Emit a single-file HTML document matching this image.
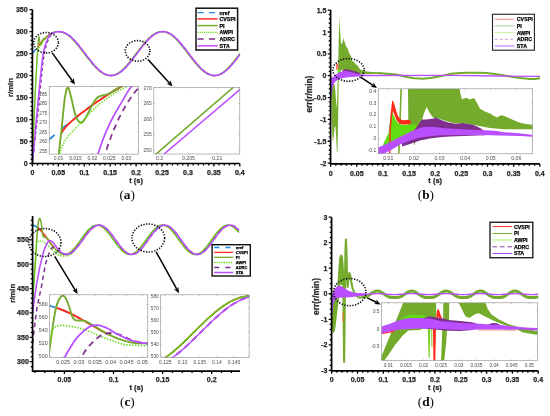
<!DOCTYPE html>
<html><head><meta charset="utf-8"><title>Figure</title><style>html,body{margin:0;padding:0;background:#fff}svg{display:block}</style></head><body>
<svg width="550" height="416" viewBox="0 0 550 416">
<rect width="550" height="416" fill="#fff"/>
<clipPath id="c1"><rect x="31.40" y="6.60" width="210.40" height="156.90"/></clipPath>
<path d="M32.4 53.6L32.8 53.0L33.2 52.5L33.6 52.0L34.0 51.4L34.4 50.9L34.8 50.4L35.2 49.9L35.6 49.3L36.0 48.8L36.4 48.3L36.8 47.8L37.2 47.3L37.6 46.8L38.0 46.3L38.4 45.8L38.8 45.3L39.2 44.8L39.6 44.3L40.0 43.8L40.4 43.4L40.8 42.9L41.2 42.4L41.6 42.0L42.0 41.5L42.4 41.1L42.8 40.6L43.2 40.2L43.6 39.8L44.0 39.4L44.4 39.0L44.8 38.6L45.2 38.2L45.6 37.8L46.0 37.5L46.4 37.1L46.8 36.8L47.2 36.4L47.6 36.1L48.0 35.8" fill="none" stroke="#2089E0" stroke-width="1.6" stroke-linejoin="round" stroke-linecap="butt" stroke-dasharray="5.5 9" clip-path="url(#c1)"/>
<path d="M37.9 47.4L38.3 46.4L38.7 45.7L39.1 45.1L39.5 44.5L39.9 44.0L40.2 43.5L40.6 43.1L41.0 42.6L41.4 42.2L41.8 41.7L42.2 41.3L42.6 40.8L43.0 40.4L43.4 40.0L43.8 39.6L44.2 39.2L44.5 38.8L44.9 38.4L45.3 38.1L45.7 37.7L46.1 37.3L46.5 37.0L46.9 36.7L47.3 36.3L47.7 36.0L48.1 35.7L48.4 35.4L48.8 35.1L49.2 34.8L49.6 34.6L50.0 34.3L50.4 34.1L50.8 33.8L51.2 33.6L51.6 33.4L52.0 33.2L52.4 33.0L52.7 32.8L53.1 32.7" fill="none" stroke="#FF2A1A" stroke-width="1.5" stroke-linejoin="round" stroke-linecap="butt" clip-path="url(#c1)"/>
<path d="M32.4 163.5L32.7 154.5L33.1 145.6L33.2 142.3L33.4 136.8L33.8 128.1L34.0 121.7L34.1 119.4L34.4 111.1L34.8 103.4L34.8 102.7L35.1 96.1L35.4 89.1L35.6 85.8L35.8 82.3L36.1 75.8L36.4 70.6L36.5 69.6L36.8 63.7L37.1 58.1L37.2 57.0L37.5 53.0L37.8 48.4L38.0 45.9L38.1 43.6L38.5 38.9L38.8 36.6L38.8 36.6L39.2 37.5L39.5 39.4L39.6 40.1L39.8 41.7L40.2 43.4L40.4 44.2L40.5 44.4L40.9 44.8L41.2 44.6L41.2 44.6L41.5 44.0L41.9 43.1L42.0 42.7L42.2 42.0L42.5 41.0L42.8 40.2L42.9 40.0L43.2 39.4L43.6 38.9L43.6 38.8L43.9 38.6L44.2 38.5L44.4 38.5L44.6 38.4L44.9 38.2L45.2 38.1L45.2 38.1L45.6 37.8L45.9 37.4L46.0 37.3L46.3 37.1L46.6 36.8L46.8 36.6L46.9 36.5L47.3 36.3L47.6 36.0L47.6 36.0L48.0 35.8L48.3 35.5L48.4 35.4L48.6 35.3L49.0 35.0L49.2 34.8L49.3 34.8L49.6 34.6L50.0 34.3L50.0 34.3L50.3 34.1L50.7 33.9L50.8 33.8L51.0 33.7L51.3 33.5L51.6 33.4L51.7 33.3L52.0 33.2L52.4 33.0L52.4 33.0L52.7 32.9L53.0 32.7L53.2 32.6L53.4 32.6L53.7 32.4L54.0 32.3L54.0 32.3L54.4 32.2L54.7 32.1L54.8 32.1L55.1 32.0L55.4 31.9L55.6 31.9L55.7 31.9L56.4 31.7L57.2 31.6L58.0 31.6L58.8 31.6L59.6 31.7L60.4 31.8L61.2 31.9L62.0 32.1L62.8 32.4L63.6 32.7L64.4 33.1L65.2 33.5L66.0 33.9L66.8 34.4L67.6 35.0L68.4 35.6L69.2 36.2L70.0 36.9L70.8 37.6L71.6 38.4L72.4 39.1L73.2 40.0L74.0 40.8L74.8 41.7L75.6 42.6L76.4 43.6L77.2 44.5L78.0 45.5L78.8 46.5L79.6 47.5L80.4 48.5L81.2 49.6L82.0 50.6L82.8 51.7L83.6 52.8L84.5 53.8L85.3 54.9L86.1 56.0L86.9 57.0L87.7 58.1L88.5 59.1L89.3 60.1L90.1 61.1L90.9 62.1L91.7 63.1L92.5 64.1L93.3 65.0L94.1 65.9L94.9 66.8L95.7 67.6L96.5 68.4L97.3 69.2L98.1 69.9L98.9 70.6L99.7 71.2L100.5 71.9L101.3 72.4L102.1 73.0L102.9 73.4L103.7 73.9L104.5 74.3L105.3 74.6L106.1 74.9L106.9 75.1L107.7 75.3L108.5 75.4L109.3 75.5L110.1 75.6L110.9 75.5L111.7 75.5L112.5 75.3L113.3 75.2L114.1 74.9L114.9 74.7L115.7 74.3L116.5 74.0L117.3 73.6L118.1 73.1L118.9 72.6L119.7 72.0L120.5 71.4L121.3 70.8L122.1 70.1L122.9 69.4L123.7 68.6L124.5 67.8L125.3 67.0L126.1 66.1L126.9 65.2L127.7 64.3L128.5 63.4L129.3 62.4L130.1 61.4L130.9 60.4L131.7 59.4L132.5 58.3L133.3 57.3L134.1 56.2L134.9 55.2L135.7 54.1L136.5 53.0L137.3 52.0L138.1 50.9L138.9 49.9L139.7 48.8L140.5 47.8L141.3 46.8L142.1 45.7L142.9 44.8L143.7 43.8L144.5 42.8L145.3 41.9L146.1 41.0L146.9 40.2L147.7 39.3L148.5 38.6L149.3 37.8L150.1 37.1L150.9 36.4L151.7 35.7L152.5 35.1L153.3 34.6L154.1 34.1L154.9 33.6L155.7 33.2L156.5 32.8L157.3 32.5L158.1 32.2L158.9 32.0L159.7 31.8L160.5 31.7L161.3 31.6L162.1 31.6L162.9 31.6L163.7 31.7L164.5 31.8L165.3 32.0L166.1 32.3L166.9 32.5L167.7 32.9L168.5 33.3L169.3 33.7L170.1 34.2L170.9 34.7L171.7 35.3L172.5 35.9L173.3 36.5L174.1 37.2L174.9 38.0L175.7 38.7L176.5 39.6L177.3 40.4L178.1 41.3L178.9 42.2L179.7 43.1L180.5 44.0L181.3 45.0L182.1 46.0L182.9 47.0L183.7 48.0L184.5 49.1L185.3 50.1L186.1 51.2L186.9 52.2L187.7 53.3L188.6 54.4L189.4 55.4L190.2 56.5L191.0 57.5L191.8 58.6L192.6 59.6L193.4 60.6L194.2 61.6L195.0 62.6L195.8 63.6L196.6 64.5L197.4 65.4L198.2 66.3L199.0 67.2L199.8 68.0L200.6 68.8L201.4 69.5L202.2 70.3L203.0 70.9L203.8 71.6L204.6 72.2L205.4 72.7L206.2 73.2L207.0 73.7L207.8 74.1L208.6 74.4L209.4 74.7L210.2 75.0L211.0 75.2L211.8 75.4L212.6 75.5L213.4 75.5L214.2 75.6L215.0 75.5L215.8 75.4L216.6 75.3L217.4 75.1L218.2 74.8L219.0 74.5L219.8 74.2L220.6 73.8L221.4 73.3L222.2 72.8L223.0 72.3L223.8 71.7L224.6 71.1L225.4 70.4L226.2 69.7L227.0 69.0L227.8 68.2L228.6 67.4L229.4 66.5L230.2 65.7L231.0 64.8L231.8 63.8L232.6 62.9L233.4 61.9L234.2 60.9L235.0 59.9L235.8 58.9L236.6 57.8L237.4 56.8L238.2 55.7L239.0 54.6L239.8 53.6" fill="none" stroke="#74AB2C" stroke-width="1.3" stroke-linejoin="round" stroke-linecap="butt" clip-path="url(#c1)"/>
<path d="M32.4 163.5L32.7 154.5L33.1 145.6L33.2 142.3L33.4 136.8L33.8 128.1L34.0 121.7L34.1 119.4L34.4 111.1L34.8 103.4L34.8 102.6L35.1 96.0L35.4 88.9L35.6 85.6L35.8 82.0L36.1 75.6L36.4 70.5L36.5 69.6L36.8 63.7L37.1 57.9L37.2 56.8L37.5 53.4L37.8 51.2L38.0 50.5L38.1 50.0L38.5 49.0L38.8 48.3L38.8 48.2L39.2 47.6L39.5 47.1L39.6 46.9L39.8 46.5L40.2 46.0L40.4 45.7L40.5 45.5L40.9 44.9L41.2 44.4L41.2 44.3L41.5 43.8L41.9 43.3L42.0 43.0L42.2 42.7L42.5 42.2L42.8 41.8L42.9 41.7L43.2 41.3L43.6 40.8L43.6 40.7L43.9 40.4L44.2 40.0L44.4 39.8L44.6 39.6L44.9 39.2L45.2 38.9L45.2 38.9L45.6 38.5L45.9 38.2L46.0 38.1L46.3 37.9L46.6 37.5L46.8 37.3L46.9 37.2L47.3 36.9L47.6 36.7L47.6 36.7L48.0 36.4L48.3 36.2L48.4 36.1L48.6 35.9L49.0 35.7L49.2 35.5L49.3 35.5L49.6 35.2L50.0 35.0L50.0 35.0L50.3 34.8L50.7 34.5L50.8 34.4L51.0 34.3L51.3 33.5L51.6 33.4L51.7 33.3L52.0 33.2L52.4 33.0L52.4 33.0L52.7 32.9L53.0 32.7L53.2 32.6L53.4 32.6L53.7 32.4L54.0 32.3L54.0 32.3L54.4 32.2L54.7 32.1L54.8 32.1L55.1 32.0L55.4 31.9L55.6 31.9L55.7 31.9L56.4 31.7L57.2 31.6L58.0 31.6L58.8 31.6L59.6 31.7L60.4 31.8L61.2 31.9L62.0 32.1L62.8 32.4L63.6 32.7L64.4 33.1L65.2 33.5L66.0 33.9L66.8 34.4L67.6 35.0L68.4 35.6L69.2 36.2L70.0 36.9L70.8 37.6L71.6 38.4L72.4 39.1L73.2 40.0L74.0 40.8L74.8 41.7L75.6 42.6L76.4 43.6L77.2 44.5L78.0 45.5L78.8 46.5L79.6 47.5L80.4 48.5L81.2 49.6L82.0 50.6L82.8 51.7L83.6 52.8L84.5 53.8L85.3 54.9L86.1 56.0L86.9 57.0L87.7 58.1L88.5 59.1L89.3 60.1L90.1 61.1L90.9 62.1L91.7 63.1L92.5 64.1L93.3 65.0L94.1 65.9L94.9 66.8L95.7 67.6L96.5 68.4L97.3 69.2L98.1 69.9L98.9 70.6L99.7 71.2L100.5 71.9L101.3 72.4L102.1 73.0L102.9 73.4L103.7 73.9L104.5 74.3L105.3 74.6L106.1 74.9L106.9 75.1L107.7 75.3L108.5 75.4L109.3 75.5L110.1 75.6L110.9 75.5L111.7 75.5L112.5 75.3L113.3 75.2L114.1 74.9L114.9 74.7L115.7 74.3L116.5 74.0L117.3 73.6L118.1 73.1L118.9 72.6L119.7 72.0L120.5 71.4L121.3 70.8L122.1 70.1L122.9 69.4L123.7 68.6L124.5 67.8L125.3 67.0L126.1 66.1L126.9 65.2L127.7 64.3L128.5 63.4L129.3 62.4L130.1 61.4L130.9 60.4L131.7 59.4L132.5 58.3L133.3 57.3L134.1 56.2L134.9 55.2L135.7 54.1L136.5 53.0L137.3 52.0L138.1 50.9L138.9 49.9L139.7 48.8L140.5 47.8L141.3 46.8L142.1 45.7L142.9 44.8L143.7 43.8L144.5 42.8L145.3 41.9L146.1 41.0L146.9 40.2L147.7 39.3L148.5 38.6L149.3 37.8L150.1 37.1L150.9 36.4L151.7 35.7L152.5 35.1L153.3 34.6L154.1 34.1L154.9 33.6L155.7 33.2L156.5 32.8L157.3 32.5L158.1 32.2L158.9 32.0L159.7 31.8L160.5 31.7L161.3 31.6L162.1 31.6L162.9 31.6L163.7 31.7L164.5 31.8L165.3 32.0L166.1 32.3L166.9 32.5L167.7 32.9L168.5 33.3L169.3 33.7L170.1 34.2L170.9 34.7L171.7 35.3L172.5 35.9L173.3 36.5L174.1 37.2L174.9 38.0L175.7 38.7L176.5 39.6L177.3 40.4L178.1 41.3L178.9 42.2L179.7 43.1L180.5 44.0L181.3 45.0L182.1 46.0L182.9 47.0L183.7 48.0L184.5 49.1L185.3 50.1L186.1 51.2L186.9 52.2L187.7 53.3L188.6 54.4L189.4 55.4L190.2 56.5L191.0 57.5L191.8 58.6L192.6 59.6L193.4 60.6L194.2 61.6L195.0 62.6L195.8 63.6L196.6 64.5L197.4 65.4L198.2 66.3L199.0 67.2L199.8 68.0L200.6 68.8L201.4 69.5L202.2 70.3L203.0 70.9L203.8 71.6L204.6 72.2L205.4 72.7L206.2 73.2L207.0 73.7L207.8 74.1L208.6 74.4L209.4 74.7L210.2 75.0L211.0 75.2L211.8 75.4L212.6 75.5L213.4 75.5L214.2 75.6L215.0 75.5L215.8 75.4L216.6 75.3L217.4 75.1L218.2 74.8L219.0 74.5L219.8 74.2L220.6 73.8L221.4 73.3L222.2 72.8L223.0 72.3L223.8 71.7L224.6 71.1L225.4 70.4L226.2 69.7L227.0 69.0L227.8 68.2L228.6 67.4L229.4 66.5L230.2 65.7L231.0 64.8L231.8 63.8L232.6 62.9L233.4 61.9L234.2 60.9L235.0 59.9L235.8 58.9L236.6 57.8L237.4 56.8L238.2 55.7L239.0 54.6L239.8 53.6" fill="none" stroke="#62DC10" stroke-width="1.2" stroke-linejoin="round" stroke-linecap="butt" stroke-dasharray="1 1" clip-path="url(#c1)"/>
<path d="M32.4 163.5L32.7 160.4L33.1 157.3L33.2 156.1L33.4 154.1L33.8 151.0L34.0 148.7L34.1 147.9L34.4 144.8L34.8 141.7L34.8 141.4L35.1 138.6L35.4 135.5L35.6 134.1L35.8 132.5L36.1 129.4L36.4 126.9L36.5 126.4L36.8 123.4L37.1 120.4L37.2 119.8L37.5 117.4L37.8 114.3L38.0 112.5L38.1 111.2L38.5 108.0L38.8 104.8L38.8 104.6L39.2 101.2L39.5 97.7L39.6 96.6L39.8 94.1L40.2 90.6L40.4 88.2L40.5 87.0L40.9 83.4L41.2 79.7L41.2 79.5L41.5 76.0L41.9 72.5L42.0 71.1L42.2 69.3L42.5 66.5L42.8 64.4L42.9 63.8L43.2 61.2L43.6 58.7L43.6 58.4L43.9 56.4L44.2 54.3L44.4 53.3L44.6 52.4L44.9 50.7L45.2 49.4L45.2 49.2L45.6 47.8L45.9 46.6L46.0 46.2L46.3 45.4L46.6 44.2L46.8 43.6L46.9 43.2L47.3 42.2L47.6 41.3L47.6 41.3L48.0 40.4L48.3 39.6L48.4 39.3L48.6 38.9L49.0 38.2L49.2 37.7L49.3 37.5L49.6 36.9L50.0 36.4L50.0 36.3L50.3 35.9L50.7 35.4L50.8 35.2L51.0 35.0L51.3 34.6L51.6 34.3L51.7 34.2L52.0 33.9L52.4 33.6L52.4 33.5L52.7 33.3L53.0 33.1L53.2 32.9L53.4 32.8L53.7 32.8L54.0 32.6L54.0 32.6L54.4 32.5L54.7 32.4L54.8 32.3L55.1 32.3L55.4 32.2L55.6 32.1L55.7 32.1L56.4 31.9L57.2 31.7L58.0 31.6L58.8 31.6L59.6 31.6L60.4 31.7L61.2 31.8L62.0 31.9L62.8 32.1L63.6 32.4L64.4 32.7L65.2 33.1L66.0 33.5L66.8 33.9L67.6 34.4L68.4 35.0L69.2 35.6L70.0 36.2L70.8 36.9L71.6 37.6L72.4 38.3L73.2 39.1L74.0 39.9L74.8 40.8L75.6 41.7L76.4 42.6L77.2 43.5L78.0 44.5L78.8 45.5L79.6 46.5L80.4 47.5L81.2 48.5L82.0 49.6L82.8 50.6L83.6 51.7L84.5 52.7L85.3 53.8L86.1 54.9L86.9 55.9L87.7 57.0L88.5 58.0L89.3 59.1L90.1 60.1L90.9 61.1L91.7 62.1L92.5 63.1L93.3 64.0L94.1 65.0L94.9 65.9L95.7 66.7L96.5 67.6L97.3 68.4L98.1 69.1L98.9 69.9L99.7 70.6L100.5 71.2L101.3 71.8L102.1 72.4L102.9 72.9L103.7 73.4L104.5 73.9L105.3 74.2L106.1 74.6L106.9 74.9L107.7 75.1L108.5 75.3L109.3 75.4L110.1 75.5L110.9 75.6L111.7 75.5L112.5 75.5L113.3 75.3L114.1 75.2L114.9 75.0L115.7 74.7L116.5 74.4L117.3 74.0L118.1 73.6L118.9 73.1L119.7 72.6L120.5 72.0L121.3 71.4L122.1 70.8L122.9 70.1L123.7 69.4L124.5 68.6L125.3 67.8L126.1 67.0L126.9 66.1L127.7 65.2L128.5 64.3L129.3 63.4L130.1 62.4L130.9 61.4L131.7 60.4L132.5 59.4L133.3 58.4L134.1 57.3L134.9 56.3L135.7 55.2L136.5 54.1L137.3 53.1L138.1 52.0L138.9 50.9L139.7 49.9L140.5 48.8L141.3 47.8L142.1 46.8L142.9 45.8L143.7 44.8L144.5 43.8L145.3 42.9L146.1 42.0L146.9 41.1L147.7 40.2L148.5 39.4L149.3 38.6L150.1 37.8L150.9 37.1L151.7 36.4L152.5 35.8L153.3 35.2L154.1 34.6L154.9 34.1L155.7 33.6L156.5 33.2L157.3 32.8L158.1 32.5L158.9 32.2L159.7 32.0L160.5 31.8L161.3 31.7L162.1 31.6L162.9 31.6L163.7 31.6L164.5 31.7L165.3 31.8L166.1 32.0L166.9 32.3L167.7 32.5L168.5 32.9L169.3 33.3L170.1 33.7L170.9 34.2L171.7 34.7L172.5 35.3L173.3 35.9L174.1 36.5L174.9 37.2L175.7 38.0L176.5 38.7L177.3 39.5L178.1 40.4L178.9 41.2L179.7 42.1L180.5 43.0L181.3 44.0L182.1 45.0L182.9 46.0L183.7 47.0L184.5 48.0L185.3 49.0L186.1 50.1L186.9 51.1L187.7 52.2L188.6 53.3L189.4 54.3L190.2 55.4L191.0 56.5L191.8 57.5L192.6 58.6L193.4 59.6L194.2 60.6L195.0 61.6L195.8 62.6L196.6 63.6L197.4 64.5L198.2 65.4L199.0 66.3L199.8 67.1L200.6 68.0L201.4 68.8L202.2 69.5L203.0 70.2L203.8 70.9L204.6 71.5L205.4 72.1L206.2 72.7L207.0 73.2L207.8 73.6L208.6 74.1L209.4 74.4L210.2 74.7L211.0 75.0L211.8 75.2L212.6 75.4L213.4 75.5L214.2 75.5L215.0 75.6L215.8 75.5L216.6 75.4L217.4 75.3L218.2 75.1L219.0 74.8L219.8 74.5L220.6 74.2L221.4 73.8L222.2 73.3L223.0 72.8L223.8 72.3L224.6 71.7L225.4 71.1L226.2 70.4L227.0 69.7L227.8 69.0L228.6 68.2L229.4 67.4L230.2 66.6L231.0 65.7L231.8 64.8L232.6 63.9L233.4 62.9L234.2 61.9L235.0 60.9L235.8 59.9L236.6 58.9L237.4 57.8L238.2 56.8L239.0 55.7L239.8 54.7" fill="none" stroke="#7E2F8E" stroke-width="1.3" stroke-linejoin="round" stroke-linecap="butt" stroke-dasharray="3.2 2.6" clip-path="url(#c1)"/>
<path d="M32.4 163.5L32.7 159.8L33.1 156.0L33.2 154.7L33.4 152.3L33.8 148.6L34.0 145.8L34.1 144.8L34.4 141.1L34.8 137.4L34.8 137.0L35.1 133.7L35.4 129.9L35.6 128.2L35.8 126.2L36.1 122.5L36.4 119.3L36.5 118.7L36.8 115.0L37.1 111.4L37.2 110.6L37.5 107.8L37.8 104.2L38.0 102.1L38.1 100.7L38.5 97.2L38.8 93.9L38.8 93.7L39.2 90.3L39.5 86.8L39.6 85.8L39.8 83.4L40.2 79.9L40.4 77.6L40.5 76.5L40.9 73.2L41.2 70.1L41.2 69.9L41.5 67.1L41.9 64.2L42.0 63.0L42.2 61.4L42.5 58.7L42.8 56.7L42.9 56.2L43.2 53.9L43.6 52.0L43.6 51.8L43.9 50.4L44.2 48.9L44.4 48.2L44.6 47.6L44.9 46.4L45.2 45.4L45.2 45.3L45.6 44.2L45.9 43.3L46.0 43.0L46.3 42.4L46.6 41.5L46.8 41.0L46.9 40.6L47.3 39.7L47.6 38.9L47.6 38.8L48.0 38.0L48.3 37.2L48.4 36.9L48.6 36.5L49.0 36.0L49.2 35.6L49.3 35.5L49.6 35.0L50.0 34.6L50.0 34.6L50.3 34.3L50.7 34.0L50.8 33.9L51.0 33.7L51.3 33.5L51.6 33.3L51.7 33.2L52.0 33.1L52.4 32.9L52.4 33.4L52.7 33.3L53.0 33.1L53.2 33.0L53.4 32.9L53.7 32.8L54.0 32.6L54.0 32.6L54.4 32.5L54.7 32.4L54.8 32.3L55.1 32.3L55.4 32.2L55.6 32.1L55.7 32.1L56.4 31.9L57.2 31.7L58.0 31.6L58.8 31.6L59.6 31.6L60.4 31.7L61.2 31.8L62.0 31.9L62.8 32.1L63.6 32.4L64.4 32.7L65.2 33.1L66.0 33.5L66.8 33.9L67.6 34.4L68.4 35.0L69.2 35.6L70.0 36.2L70.8 36.9L71.6 37.6L72.4 38.3L73.2 39.1L74.0 39.9L74.8 40.8L75.6 41.7L76.4 42.6L77.2 43.5L78.0 44.5L78.8 45.5L79.6 46.5L80.4 47.5L81.2 48.5L82.0 49.6L82.8 50.6L83.6 51.7L84.5 52.7L85.3 53.8L86.1 54.9L86.9 55.9L87.7 57.0L88.5 58.0L89.3 59.1L90.1 60.1L90.9 61.1L91.7 62.1L92.5 63.1L93.3 64.0L94.1 65.0L94.9 65.9L95.7 66.7L96.5 67.6L97.3 68.4L98.1 69.1L98.9 69.9L99.7 70.6L100.5 71.2L101.3 71.8L102.1 72.4L102.9 72.9L103.7 73.4L104.5 73.9L105.3 74.2L106.1 74.6L106.9 74.9L107.7 75.1L108.5 75.3L109.3 75.4L110.1 75.5L110.9 75.6L111.7 75.5L112.5 75.5L113.3 75.3L114.1 75.2L114.9 75.0L115.7 74.7L116.5 74.4L117.3 74.0L118.1 73.6L118.9 73.1L119.7 72.6L120.5 72.0L121.3 71.4L122.1 70.8L122.9 70.1L123.7 69.4L124.5 68.6L125.3 67.8L126.1 67.0L126.9 66.1L127.7 65.2L128.5 64.3L129.3 63.4L130.1 62.4L130.9 61.4L131.7 60.4L132.5 59.4L133.3 58.4L134.1 57.3L134.9 56.3L135.7 55.2L136.5 54.1L137.3 53.1L138.1 52.0L138.9 50.9L139.7 49.9L140.5 48.8L141.3 47.8L142.1 46.8L142.9 45.8L143.7 44.8L144.5 43.8L145.3 42.9L146.1 42.0L146.9 41.1L147.7 40.2L148.5 39.4L149.3 38.6L150.1 37.8L150.9 37.1L151.7 36.4L152.5 35.8L153.3 35.2L154.1 34.6L154.9 34.1L155.7 33.6L156.5 33.2L157.3 32.8L158.1 32.5L158.9 32.2L159.7 32.0L160.5 31.8L161.3 31.7L162.1 31.6L162.9 31.6L163.7 31.6L164.5 31.7L165.3 31.8L166.1 32.0L166.9 32.3L167.7 32.5L168.5 32.9L169.3 33.3L170.1 33.7L170.9 34.2L171.7 34.7L172.5 35.3L173.3 35.9L174.1 36.5L174.9 37.2L175.7 38.0L176.5 38.7L177.3 39.5L178.1 40.4L178.9 41.2L179.7 42.1L180.5 43.0L181.3 44.0L182.1 45.0L182.9 46.0L183.7 47.0L184.5 48.0L185.3 49.0L186.1 50.1L186.9 51.1L187.7 52.2L188.6 53.3L189.4 54.3L190.2 55.4L191.0 56.5L191.8 57.5L192.6 58.6L193.4 59.6L194.2 60.6L195.0 61.6L195.8 62.6L196.6 63.6L197.4 64.5L198.2 65.4L199.0 66.3L199.8 67.1L200.6 68.0L201.4 68.8L202.2 69.5L203.0 70.2L203.8 70.9L204.6 71.5L205.4 72.1L206.2 72.7L207.0 73.2L207.8 73.6L208.6 74.1L209.4 74.4L210.2 74.7L211.0 75.0L211.8 75.2L212.6 75.4L213.4 75.5L214.2 75.5L215.0 75.6L215.8 75.5L216.6 75.4L217.4 75.3L218.2 75.1L219.0 74.8L219.8 74.5L220.6 74.2L221.4 73.8L222.2 73.3L223.0 72.8L223.8 72.3L224.6 71.7L225.4 71.1L226.2 70.4L227.0 69.7L227.8 69.0L228.6 68.2L229.4 67.4L230.2 66.6L231.0 65.7L231.8 64.8L232.6 63.9L233.4 62.9L234.2 61.9L235.0 60.9L235.8 59.9L236.6 58.9L237.4 57.8L238.2 56.8L239.0 55.7L239.8 54.7" fill="none" stroke="#B94FFF" stroke-width="1.6" stroke-linejoin="round" stroke-linecap="butt" clip-path="url(#c1)"/>
<path d="M32.40 9.60 V163.50 H239.80" fill="none" stroke="#000" stroke-width="1.7" stroke-linejoin="miter"/>
<path d="M32.40 163.50 v1.9M37.59 163.50 v1.9M42.77 163.50 v1.9M47.95 163.50 v1.9M53.14 163.50 v1.9M58.33 163.50 v1.9M63.51 163.50 v1.9M68.69 163.50 v1.9M73.88 163.50 v1.9M79.06 163.50 v1.9M84.25 163.50 v1.9M89.44 163.50 v1.9M94.62 163.50 v1.9M99.81 163.50 v1.9M104.99 163.50 v1.9M110.17 163.50 v1.9M115.36 163.50 v1.9M120.54 163.50 v1.9M125.73 163.50 v1.9M130.91 163.50 v1.9M136.10 163.50 v1.9M141.28 163.50 v1.9M146.47 163.50 v1.9M151.66 163.50 v1.9M156.84 163.50 v1.9M162.03 163.50 v1.9M167.21 163.50 v1.9M172.40 163.50 v1.9M177.58 163.50 v1.9M182.76 163.50 v1.9M187.95 163.50 v1.9M193.13 163.50 v1.9M198.32 163.50 v1.9M203.51 163.50 v1.9M208.69 163.50 v1.9M213.88 163.50 v1.9M219.06 163.50 v1.9M224.25 163.50 v1.9M229.43 163.50 v1.9M234.62 163.50 v1.9M239.80 163.50 v1.9M32.40 163.50 h-1.9M32.40 159.10 h-1.9M32.40 154.71 h-1.9M32.40 150.31 h-1.9M32.40 145.91 h-1.9M32.40 141.51 h-1.9M32.40 137.12 h-1.9M32.40 132.72 h-1.9M32.40 128.32 h-1.9M32.40 123.93 h-1.9M32.40 119.53 h-1.9M32.40 115.13 h-1.9M32.40 110.73 h-1.9M32.40 106.34 h-1.9M32.40 101.94 h-1.9M32.40 97.54 h-1.9M32.40 93.15 h-1.9M32.40 88.75 h-1.9M32.40 84.35 h-1.9M32.40 79.95 h-1.9M32.40 75.56 h-1.9M32.40 71.16 h-1.9M32.40 66.76 h-1.9M32.40 62.37 h-1.9M32.40 57.97 h-1.9M32.40 53.57 h-1.9M32.40 49.17 h-1.9M32.40 44.78 h-1.9M32.40 40.38 h-1.9M32.40 35.98 h-1.9M32.40 31.59 h-1.9M32.40 27.19 h-1.9M32.40 22.79 h-1.9M32.40 18.39 h-1.9M32.40 14.00 h-1.9M32.40 9.60 h-1.9M32.40 163.50 v2.9M58.33 163.50 v2.9M84.25 163.50 v2.9M110.17 163.50 v2.9M136.10 163.50 v2.9M162.03 163.50 v2.9M187.95 163.50 v2.9M213.88 163.50 v2.9M239.80 163.50 v2.9M32.40 163.50 h-2.9M32.40 141.51 h-2.9M32.40 119.53 h-2.9M32.40 97.54 h-2.9M32.40 75.56 h-2.9M32.40 53.57 h-2.9M32.40 31.59 h-2.9M32.40 9.60 h-2.9" stroke="#000" stroke-width="1.3" fill="none"/>
<text x="32.40" y="175.20" font-size="7.0" text-anchor="middle" font-weight="bold" fill="#262626" font-family="Liberation Sans, sans-serif"  stroke="#262626" stroke-width="0.25">0</text>
<text x="58.33" y="175.20" font-size="7.0" text-anchor="middle" font-weight="bold" fill="#262626" font-family="Liberation Sans, sans-serif"  stroke="#262626" stroke-width="0.25">0.05</text>
<text x="84.25" y="175.20" font-size="7.0" text-anchor="middle" font-weight="bold" fill="#262626" font-family="Liberation Sans, sans-serif"  stroke="#262626" stroke-width="0.25">0.1</text>
<text x="110.17" y="175.20" font-size="7.0" text-anchor="middle" font-weight="bold" fill="#262626" font-family="Liberation Sans, sans-serif"  stroke="#262626" stroke-width="0.25">0.15</text>
<text x="136.10" y="175.20" font-size="7.0" text-anchor="middle" font-weight="bold" fill="#262626" font-family="Liberation Sans, sans-serif"  stroke="#262626" stroke-width="0.25">0.2</text>
<text x="162.03" y="175.20" font-size="7.0" text-anchor="middle" font-weight="bold" fill="#262626" font-family="Liberation Sans, sans-serif"  stroke="#262626" stroke-width="0.25">0.25</text>
<text x="187.95" y="175.20" font-size="7.0" text-anchor="middle" font-weight="bold" fill="#262626" font-family="Liberation Sans, sans-serif"  stroke="#262626" stroke-width="0.25">0.3</text>
<text x="213.88" y="175.20" font-size="7.0" text-anchor="middle" font-weight="bold" fill="#262626" font-family="Liberation Sans, sans-serif"  stroke="#262626" stroke-width="0.25">0.35</text>
<text x="239.80" y="175.20" font-size="7.0" text-anchor="middle" font-weight="bold" fill="#262626" font-family="Liberation Sans, sans-serif"  stroke="#262626" stroke-width="0.25">0.4</text>
<text x="27.60" y="166.00" font-size="7.0" text-anchor="end" font-weight="bold" fill="#262626" font-family="Liberation Sans, sans-serif"  stroke="#262626" stroke-width="0.25">0</text>
<text x="27.60" y="144.01" font-size="7.0" text-anchor="end" font-weight="bold" fill="#262626" font-family="Liberation Sans, sans-serif"  stroke="#262626" stroke-width="0.25">50</text>
<text x="27.60" y="122.03" font-size="7.0" text-anchor="end" font-weight="bold" fill="#262626" font-family="Liberation Sans, sans-serif"  stroke="#262626" stroke-width="0.25">100</text>
<text x="27.60" y="100.04" font-size="7.0" text-anchor="end" font-weight="bold" fill="#262626" font-family="Liberation Sans, sans-serif"  stroke="#262626" stroke-width="0.25">150</text>
<text x="27.60" y="78.06" font-size="7.0" text-anchor="end" font-weight="bold" fill="#262626" font-family="Liberation Sans, sans-serif"  stroke="#262626" stroke-width="0.25">200</text>
<text x="27.60" y="56.07" font-size="7.0" text-anchor="end" font-weight="bold" fill="#262626" font-family="Liberation Sans, sans-serif"  stroke="#262626" stroke-width="0.25">250</text>
<text x="27.60" y="34.09" font-size="7.0" text-anchor="end" font-weight="bold" fill="#262626" font-family="Liberation Sans, sans-serif"  stroke="#262626" stroke-width="0.25">300</text>
<text x="27.60" y="12.10" font-size="7.0" text-anchor="end" font-weight="bold" fill="#262626" font-family="Liberation Sans, sans-serif"  stroke="#262626" stroke-width="0.25">350</text>
<text x="136.10" y="183.20" font-size="7.5" text-anchor="middle" font-weight="bold" fill="#262626" font-family="Liberation Sans, sans-serif"  stroke="#262626" stroke-width="0.25">t (s)</text>
<text transform="translate(13.20 87.50) rotate(-90)" font-size="7.8" text-anchor="middle" font-weight="bold" fill="#262626" stroke="#262626" stroke-width="0.25" font-family="Liberation Sans, sans-serif">r/min</text>
<rect x="49.20" y="86.30" width="89.50" height="67.80" fill="#fff" stroke="none"/>
<clipPath id="c2"><rect x="49.20" y="86.30" width="89.50" height="67.80"/></clipPath>
<path d="M45.5 142.7L47.6 140.9L49.7 139.1L51.8 137.3L53.9 135.5L56.0 133.8L58.1 132.0L60.1 130.3L62.2 128.5L64.3 126.8L66.4 125.1L68.5 123.4L70.6 121.7L72.7 120.1L74.7 118.4L76.8 116.8L78.9 115.1L81.0 113.5L83.1 111.9L85.2 110.4L87.3 108.8L89.3 107.3L91.4 105.8L93.5 104.3L95.6 102.8L97.7 101.4L99.8 99.9L101.9 98.5L104.0 97.2L106.0 95.8L108.1 94.5L110.2 93.2L112.3 91.9L114.4 90.6L116.5 89.4L118.6 88.2L120.6 87.0L122.7 85.9L124.8 84.7L126.9 83.6" fill="none" stroke="#2089E0" stroke-width="1.8" stroke-linejoin="round" stroke-linecap="butt" stroke-dasharray="7.5 8.5" clip-path="url(#c2)" stroke-dashoffset="11.5"/>
<path d="M61.1 133.6L63.7 129.6L66.2 126.4L68.8 123.8L71.4 121.4L73.9 119.2L76.5 117.1L79.0 115.1L81.6 113.1L84.1 111.2L86.7 109.3L89.2 107.4L91.8 105.5L94.4 103.7L96.9 101.9L99.5 100.2L102.0 98.4L104.6 96.8L107.1 95.1L109.7 93.5L112.2 91.9L114.8 90.4L117.4 88.9L119.9 87.4L122.5 86.0L125.0 84.6L127.6 83.3L130.1 82.0L132.7 80.8L135.2 79.6L137.8 78.4L140.4 77.3L142.9 76.2L145.5 75.2L148.0 74.3L150.6 73.3L153.1 72.5L155.7 71.6L158.2 70.9L160.8 70.1" fill="none" stroke="#FF2A1A" stroke-width="1.875" stroke-linejoin="round" stroke-linecap="butt" clip-path="url(#c2)"/>
<path d="M45.5 308.0L47.1 286.8L48.8 266.2L50.4 246.3L52.0 227.1L53.6 208.4L55.2 190.5L56.8 173.4L58.4 157.4L60.0 143.0L61.6 129.3L63.2 112.5L64.8 97.9L66.5 89.2L68.1 87.3L69.7 91.9L71.3 97.7L72.9 105.1L74.5 112.1L76.1 116.8L77.7 120.2L79.3 122.0L80.9 122.9L82.5 122.1L84.2 120.1L85.8 117.8L87.4 114.7L89.0 111.4L90.6 108.2L92.2 104.9L93.8 101.9L95.4 99.8L97.0 98.0L98.6 96.7L100.2 96.1L101.8 95.6L103.5 95.2L105.1 94.8L106.7 94.4L108.3 93.9L109.9 93.2L111.5 92.2L113.1 91.1L114.7 90.0L116.3 89.1L117.9 88.1L119.5 87.2L121.2 86.3L122.8 85.5L124.4 84.7L126.0 83.9L127.6 83.2L129.2 82.5L130.8 81.7L132.4 80.9L134.0 80.1L135.6 79.4L137.2 78.7L138.9 77.9L140.5 77.3" fill="none" stroke="#74AB2C" stroke-width="1.9" stroke-linejoin="round" stroke-linecap="butt" clip-path="url(#c2)"/>
<path d="M45.5 307.0L47.1 285.6L48.8 265.1L50.4 245.6L52.0 227.1L53.6 208.4L55.2 189.7L56.8 172.7L58.4 159.6L60.0 151.9L61.6 147.6L63.2 144.0L64.8 140.9L66.5 138.5L68.1 136.3L69.7 134.5L71.3 132.7L72.9 131.1L74.5 129.5L76.1 127.9L77.7 126.1L79.3 124.4L80.9 122.6L82.5 120.8L84.2 119.1L85.8 117.3L87.4 115.6L89.0 114.0L90.6 112.4L92.2 110.9L93.8 109.3L95.4 107.8L97.0 106.3L98.6 104.9L100.2 103.6L101.8 102.3L103.5 101.0L105.1 99.8L106.7 98.7L108.3 97.6L109.9 96.5L111.5 95.4L113.1 94.4L114.7 93.3L116.3 92.3L117.9 91.3L119.5 90.3L121.2 89.4L122.8 88.5L124.4 87.6L126.0 86.7L127.6 85.9L129.2 85.2L130.8 84.5L132.4 83.7L134.0 83.0L135.6 82.3L137.2 81.6L138.9 80.8L140.5 80.1" fill="none" stroke="#62DC10" stroke-width="1.625" stroke-linejoin="round" stroke-linecap="butt" stroke-dasharray="1.3 1.5" clip-path="url(#c2)"/>
<path d="M45.5 512.0L47.1 502.4L48.8 492.8L50.4 483.3L52.0 473.9L53.6 464.5L55.2 455.1L56.8 445.6L58.4 436.0L60.0 426.4L61.6 416.6L63.2 406.6L64.8 396.5L66.5 386.1L68.1 375.4L69.7 364.5L71.3 353.5L72.9 342.3L74.5 331.1L76.1 320.0L77.7 308.9L79.3 297.6L80.9 286.0L82.5 274.3L84.2 262.6L85.8 251.3L87.4 240.6L89.0 230.6L90.6 221.6L92.2 212.8L93.8 204.2L95.4 196.0L97.0 188.1L98.6 180.6L100.2 173.4L101.8 166.6L103.5 160.3L105.1 154.5L106.7 149.2L108.3 144.3L109.9 139.7L111.5 135.5L113.1 131.5L114.7 127.7L116.3 124.0L117.9 120.5L119.5 117.1L121.2 113.9L122.8 110.9L124.4 108.0L126.0 105.2L127.6 102.6L129.2 100.1L130.8 97.7L132.4 95.4L134.0 93.3L135.6 91.3L137.2 89.4L138.9 87.7L140.5 86.0" fill="none" stroke="#7E2F8E" stroke-width="1.7" stroke-linejoin="round" stroke-linecap="butt" stroke-dasharray="6 4.5" clip-path="url(#c2)"/>
<path d="M45.5 487.3L47.1 475.5L48.8 463.7L50.4 452.0L52.0 440.3L53.6 428.7L55.2 417.1L56.8 405.6L58.4 394.3L60.0 383.0L61.6 371.9L63.2 360.8L64.8 349.9L66.5 339.0L68.1 328.1L69.7 317.3L71.3 306.6L72.9 295.7L74.5 284.8L76.1 273.9L77.7 263.1L79.3 252.6L80.9 242.3L82.5 232.6L84.2 223.3L85.8 214.2L87.4 205.1L89.0 196.1L90.6 187.5L92.2 179.2L93.8 171.5L95.4 164.3L97.0 157.9L98.6 152.2L100.2 147.1L101.8 142.5L103.5 138.1L105.1 134.1L106.7 130.4L108.3 126.8L109.9 123.3L111.5 120.1L113.1 117.0L114.7 114.1L116.3 111.3L117.9 108.5L119.5 105.8L121.2 103.1L122.8 100.3L124.4 97.4L126.0 94.6L127.6 92.0L129.2 89.5L130.8 87.4L132.4 85.6L134.0 83.9L135.6 82.4L137.2 81.0L138.9 79.7L140.5 78.5" fill="none" stroke="#B94FFF" stroke-width="1.7" stroke-linejoin="round" stroke-linecap="butt" clip-path="url(#c2)"/>
<rect x="49.20" y="86.30" width="89.50" height="67.80" fill="none" stroke="#8a8a8a" stroke-width="0.6"/>
<path d="M58.50 154.10 v-1.2M58.50 86.30 v1.2M75.45 154.10 v-1.2M75.45 86.30 v1.2M92.40 154.10 v-1.2M92.40 86.30 v1.2M109.35 154.10 v-1.2M109.35 86.30 v1.2M126.30 154.10 v-1.2M126.30 86.30 v1.2M49.20 151.00 h1.2M138.70 151.00 h-1.2M49.20 141.50 h1.2M138.70 141.50 h-1.2M49.20 132.00 h1.2M138.70 132.00 h-1.2M49.20 122.50 h1.2M138.70 122.50 h-1.2M49.20 113.00 h1.2M138.70 113.00 h-1.2M49.20 103.50 h1.2M138.70 103.50 h-1.2M49.20 94.00 h1.2M138.70 94.00 h-1.2" stroke="#8a8a8a" stroke-width="0.5" fill="none"/>
<text x="58.50" y="160.40" font-size="5.0" text-anchor="middle" font-weight="normal" fill="#4d4d4d" font-family="Liberation Sans, sans-serif" >0.01</text>
<text x="75.45" y="160.40" font-size="5.0" text-anchor="middle" font-weight="normal" fill="#4d4d4d" font-family="Liberation Sans, sans-serif" >0.015</text>
<text x="92.40" y="160.40" font-size="5.0" text-anchor="middle" font-weight="normal" fill="#4d4d4d" font-family="Liberation Sans, sans-serif" >0.02</text>
<text x="109.35" y="160.40" font-size="5.0" text-anchor="middle" font-weight="normal" fill="#4d4d4d" font-family="Liberation Sans, sans-serif" >0.025</text>
<text x="126.30" y="160.40" font-size="5.0" text-anchor="middle" font-weight="normal" fill="#4d4d4d" font-family="Liberation Sans, sans-serif" >0.03</text>
<text x="47.20" y="152.80" font-size="4.75" text-anchor="end" font-weight="normal" fill="#4d4d4d" font-family="Liberation Sans, sans-serif" >255</text>
<text x="47.20" y="143.30" font-size="4.75" text-anchor="end" font-weight="normal" fill="#4d4d4d" font-family="Liberation Sans, sans-serif" >260</text>
<text x="47.20" y="133.80" font-size="4.75" text-anchor="end" font-weight="normal" fill="#4d4d4d" font-family="Liberation Sans, sans-serif" >265</text>
<text x="47.20" y="124.30" font-size="4.75" text-anchor="end" font-weight="normal" fill="#4d4d4d" font-family="Liberation Sans, sans-serif" >270</text>
<text x="47.20" y="114.80" font-size="4.75" text-anchor="end" font-weight="normal" fill="#4d4d4d" font-family="Liberation Sans, sans-serif" >275</text>
<text x="47.20" y="105.30" font-size="4.75" text-anchor="end" font-weight="normal" fill="#4d4d4d" font-family="Liberation Sans, sans-serif" >280</text>
<text x="47.20" y="95.80" font-size="4.75" text-anchor="end" font-weight="normal" fill="#4d4d4d" font-family="Liberation Sans, sans-serif" >285</text>
<rect x="153.80" y="87.30" width="86.00" height="66.70" fill="#fff" stroke="none"/>
<clipPath id="c3"><rect x="153.80" y="87.30" width="86.00" height="66.70"/></clipPath>
<path d="M153.1 156.6L236.3 84.7" fill="none" stroke="#74AB2C" stroke-width="1.6" stroke-linejoin="round" stroke-linecap="butt" clip-path="url(#c3)"/>
<path d="M161.1 156.6L242.8 87.1" fill="none" stroke="#B94FFF" stroke-width="1.5" stroke-linejoin="round" stroke-linecap="butt" clip-path="url(#c3)"/>
<rect x="153.80" y="87.30" width="86.00" height="66.70" fill="none" stroke="#8a8a8a" stroke-width="0.6"/>
<path d="M159.60 154.00 v-1.2M159.60 87.30 v1.2M188.45 154.00 v-1.2M188.45 87.30 v1.2M217.30 154.00 v-1.2M217.30 87.30 v1.2M153.80 150.20 h1.2M239.80 150.20 h-1.2M153.80 134.62 h1.2M239.80 134.62 h-1.2M153.80 119.05 h1.2M239.80 119.05 h-1.2M153.80 103.48 h1.2M239.80 103.48 h-1.2M153.80 87.90 h1.2M239.80 87.90 h-1.2" stroke="#8a8a8a" stroke-width="0.5" fill="none"/>
<text x="159.60" y="160.30" font-size="5.2" text-anchor="middle" font-weight="normal" fill="#4d4d4d" font-family="Liberation Sans, sans-serif" >0.2</text>
<text x="188.45" y="160.30" font-size="5.2" text-anchor="middle" font-weight="normal" fill="#4d4d4d" font-family="Liberation Sans, sans-serif" >0.205</text>
<text x="217.30" y="160.30" font-size="5.2" text-anchor="middle" font-weight="normal" fill="#4d4d4d" font-family="Liberation Sans, sans-serif" >0.21</text>
<text x="151.80" y="152.00" font-size="4.9399999999999995" text-anchor="end" font-weight="normal" fill="#4d4d4d" font-family="Liberation Sans, sans-serif" >250</text>
<text x="151.80" y="136.43" font-size="4.9399999999999995" text-anchor="end" font-weight="normal" fill="#4d4d4d" font-family="Liberation Sans, sans-serif" >255</text>
<text x="151.80" y="120.85" font-size="4.9399999999999995" text-anchor="end" font-weight="normal" fill="#4d4d4d" font-family="Liberation Sans, sans-serif" >260</text>
<text x="151.80" y="105.28" font-size="4.9399999999999995" text-anchor="end" font-weight="normal" fill="#4d4d4d" font-family="Liberation Sans, sans-serif" >265</text>
<text x="151.80" y="89.70" font-size="4.9399999999999995" text-anchor="end" font-weight="normal" fill="#4d4d4d" font-family="Liberation Sans, sans-serif" >270</text>
<ellipse cx="46.10" cy="42.70" rx="12.30" ry="10.20" fill="none" stroke="#111" stroke-width="1.6" stroke-dasharray="1.3 1.45"/>
<path d="M52.20 52.90 L72.47 81.00" stroke="#000" stroke-width="1.5" fill="none"/>
<path d="M75.00 84.50 L69.38 81.16 L72.47 81.00 L73.60 78.11 Z" fill="#000"/>
<ellipse cx="137.60" cy="50.90" rx="12.30" ry="10.30" fill="none" stroke="#111" stroke-width="1.6" stroke-dasharray="1.3 1.45"/>
<path d="M148.00 59.40 L169.60 83.30" stroke="#000" stroke-width="1.5" fill="none"/>
<path d="M172.50 86.50 L166.55 83.79 L169.60 83.30 L170.40 80.31 Z" fill="#000"/>
<rect x="196.00" y="8.20" width="41.60" height="41.80" fill="#fff" stroke="#111" stroke-width="1.5"/>
<path d="M197.60 12.65 H217.70" stroke="#2089E0" stroke-width="1.3" fill="none" stroke-dasharray="6 5.5"/>
<text x="219.50" y="14.56" font-size="5.3" text-anchor="start" font-weight="bold" fill="#000" font-family="Liberation Sans, sans-serif"  stroke="#000" stroke-width="0.25">nref</text>
<path d="M197.60 18.90 H217.70" stroke="#FF2A1A" stroke-width="1.5" fill="none"/>
<text x="219.50" y="20.81" font-size="5.3" text-anchor="start" font-weight="bold" fill="#000" font-family="Liberation Sans, sans-serif"  stroke="#000" stroke-width="0.25">CVSPI</text>
<path d="M197.60 25.60 H217.70" stroke="#74AB2C" stroke-width="1.5" fill="none"/>
<text x="219.50" y="27.51" font-size="5.3" text-anchor="start" font-weight="bold" fill="#000" font-family="Liberation Sans, sans-serif"  stroke="#000" stroke-width="0.25">PI</text>
<path d="M197.60 32.30 H217.70" stroke="#62DC10" stroke-width="1.3" fill="none" stroke-dasharray="1.1 1.0"/>
<text x="219.50" y="34.21" font-size="5.3" text-anchor="start" font-weight="bold" fill="#000" font-family="Liberation Sans, sans-serif"  stroke="#000" stroke-width="0.25">AWPI</text>
<path d="M197.60 39.00 H217.70" stroke="#7E2F8E" stroke-width="1.4" fill="none" stroke-dasharray="6 5.5"/>
<text x="219.50" y="40.91" font-size="5.3" text-anchor="start" font-weight="bold" fill="#000" font-family="Liberation Sans, sans-serif"  stroke="#000" stroke-width="0.25">ADRC</text>
<path d="M197.60 45.80 H217.70" stroke="#B94FFF" stroke-width="1.5" fill="none"/>
<text x="219.50" y="47.71" font-size="5.3" text-anchor="start" font-weight="bold" fill="#000" font-family="Liberation Sans, sans-serif"  stroke="#000" stroke-width="0.25">STA</text>
<text x="127.2" y="198.9" font-size="13.3" text-anchor="middle" fill="#0a0a0a" font-family="Liberation Serif, serif">(<tspan font-weight="bold">a</tspan>)</text>
<path d="M331.3 77.0L331.5 100.0L332.3 135.0L333.0 142.0L333.8 136.0L334.6 127.0L335.4 126.0L336.2 138.0L336.9 152.5L337.5 152.0L338.2 115.0L338.8 76.0L337.8 76.0L337.2 100.0L336.6 108.0L336.0 100.0L335.3 90.0L334.5 85.0L333.5 82.0L332.5 79.0Z" fill="#74AB2C" />
<path d="M338.0 76.0L338.7 40.0L339.4 16.9L340.0 30.0L341.0 43.5L342.0 44.0L343.5 38.0L344.5 42.0L346.0 46.3L347.5 48.0L349.0 53.0L350.5 55.0L352.0 60.8L354.0 62.0L356.0 64.6L358.0 66.0L360.0 69.4L365.0 71.3L372.0 72.0L378.0 72.3L378.0 74.0L365.0 74.0L355.0 73.4L348.0 72.0L341.0 70.0L339.5 73.0Z" fill="#74AB2C" />
<path d="M378.0 73.1L396.4 74.5L405.5 76.7L414.0 78.2L423.6 78.7L432.0 77.8L441.8 76.0L451.0 73.8L460.0 72.9L468.0 72.7L477.0 72.7L486.0 73.1L495.0 74.0L504.5 75.5L513.0 77.0L522.7 78.2L530.0 78.9L535.0 79.0L540.0 78.2" fill="none" stroke="#74AB2C" stroke-width="2.0" stroke-linejoin="round" stroke-linecap="butt" />
<path d="M336.7 70.0L337.0 63.5L337.9 66.5L338.6 68.8" fill="none" stroke="#FF2A1A" stroke-width="0.9" stroke-linejoin="round" stroke-linecap="butt" />
<path d="M337.6 68.5L339.0 69.0L340.3 71.0L340.5 73.0L337.6 73.0Z" fill="#62DC10" />
<path d="M342.0 71.8L344.0 69.6L346.0 69.0L348.0 69.4L352.0 70.5L356.0 71.6L360.0 73.0L360.0 74.2L342.0 73.5Z" fill="#7E2F8E" />
<path d="M331.0 78.0L333.0 77.0L336.0 74.5L340.0 72.0L345.0 70.8L350.0 71.7L356.0 73.5L362.0 74.5L370.0 74.8L370.0 76.2L360.0 76.5L350.0 77.0L343.0 78.0L339.4 79.0L336.0 81.0L334.0 83.3L332.8 87.0L332.2 90.5L331.5 97.7L331.0 97.7Z" fill="#B94FFF" />
<path d="M370.0 75.5L450.0 75.4L500.0 76.0L540.0 76.4" fill="none" stroke="#B94FFF" stroke-width="1.4" stroke-linejoin="round" stroke-linecap="butt" />
<path d="M330.60 10.10 V163.90 H539.80" fill="none" stroke="#000" stroke-width="1.7" stroke-linejoin="miter"/>
<path d="M330.60 163.90 v1.9M335.83 163.90 v1.9M341.06 163.90 v1.9M346.29 163.90 v1.9M351.52 163.90 v1.9M356.75 163.90 v1.9M361.98 163.90 v1.9M367.21 163.90 v1.9M372.44 163.90 v1.9M377.67 163.90 v1.9M382.90 163.90 v1.9M388.13 163.90 v1.9M393.36 163.90 v1.9M398.59 163.90 v1.9M403.82 163.90 v1.9M409.05 163.90 v1.9M414.28 163.90 v1.9M419.51 163.90 v1.9M424.74 163.90 v1.9M429.97 163.90 v1.9M435.20 163.90 v1.9M440.43 163.90 v1.9M445.66 163.90 v1.9M450.89 163.90 v1.9M456.12 163.90 v1.9M461.35 163.90 v1.9M466.58 163.90 v1.9M471.81 163.90 v1.9M477.04 163.90 v1.9M482.27 163.90 v1.9M487.50 163.90 v1.9M492.73 163.90 v1.9M497.96 163.90 v1.9M503.19 163.90 v1.9M508.42 163.90 v1.9M513.65 163.90 v1.9M518.88 163.90 v1.9M524.11 163.90 v1.9M529.34 163.90 v1.9M534.57 163.90 v1.9M539.80 163.90 v1.9M330.60 163.10 h-1.9M330.60 158.73 h-1.9M330.60 154.36 h-1.9M330.60 149.99 h-1.9M330.60 145.62 h-1.9M330.60 141.25 h-1.9M330.60 136.88 h-1.9M330.60 132.51 h-1.9M330.60 128.14 h-1.9M330.60 123.77 h-1.9M330.60 119.40 h-1.9M330.60 115.03 h-1.9M330.60 110.66 h-1.9M330.60 106.29 h-1.9M330.60 101.92 h-1.9M330.60 97.55 h-1.9M330.60 93.18 h-1.9M330.60 88.81 h-1.9M330.60 84.44 h-1.9M330.60 80.07 h-1.9M330.60 75.70 h-1.9M330.60 71.33 h-1.9M330.60 66.96 h-1.9M330.60 62.59 h-1.9M330.60 58.22 h-1.9M330.60 53.85 h-1.9M330.60 49.48 h-1.9M330.60 45.11 h-1.9M330.60 40.74 h-1.9M330.60 36.37 h-1.9M330.60 32.00 h-1.9M330.60 27.63 h-1.9M330.60 23.26 h-1.9M330.60 18.89 h-1.9M330.60 14.52 h-1.9M330.60 10.15 h-1.9M330.60 163.90 v2.9M356.75 163.90 v2.9M382.90 163.90 v2.9M409.05 163.90 v2.9M435.20 163.90 v2.9M461.35 163.90 v2.9M487.50 163.90 v2.9M513.65 163.90 v2.9M539.80 163.90 v2.9M330.60 163.10 h-2.9M330.60 141.25 h-2.9M330.60 119.40 h-2.9M330.60 97.55 h-2.9M330.60 75.70 h-2.9M330.60 53.85 h-2.9M330.60 32.00 h-2.9M330.60 10.15 h-2.9" stroke="#000" stroke-width="1.3" fill="none"/>
<text x="330.60" y="175.60" font-size="7.0" text-anchor="middle" font-weight="bold" fill="#262626" font-family="Liberation Sans, sans-serif"  stroke="#262626" stroke-width="0.25">0</text>
<text x="356.75" y="175.60" font-size="7.0" text-anchor="middle" font-weight="bold" fill="#262626" font-family="Liberation Sans, sans-serif"  stroke="#262626" stroke-width="0.25">0.05</text>
<text x="382.90" y="175.60" font-size="7.0" text-anchor="middle" font-weight="bold" fill="#262626" font-family="Liberation Sans, sans-serif"  stroke="#262626" stroke-width="0.25">0.1</text>
<text x="409.05" y="175.60" font-size="7.0" text-anchor="middle" font-weight="bold" fill="#262626" font-family="Liberation Sans, sans-serif"  stroke="#262626" stroke-width="0.25">0.15</text>
<text x="435.20" y="175.60" font-size="7.0" text-anchor="middle" font-weight="bold" fill="#262626" font-family="Liberation Sans, sans-serif"  stroke="#262626" stroke-width="0.25">0.2</text>
<text x="461.35" y="175.60" font-size="7.0" text-anchor="middle" font-weight="bold" fill="#262626" font-family="Liberation Sans, sans-serif"  stroke="#262626" stroke-width="0.25">0.25</text>
<text x="487.50" y="175.60" font-size="7.0" text-anchor="middle" font-weight="bold" fill="#262626" font-family="Liberation Sans, sans-serif"  stroke="#262626" stroke-width="0.25">0.3</text>
<text x="513.65" y="175.60" font-size="7.0" text-anchor="middle" font-weight="bold" fill="#262626" font-family="Liberation Sans, sans-serif"  stroke="#262626" stroke-width="0.25">0.35</text>
<text x="539.80" y="175.60" font-size="7.0" text-anchor="middle" font-weight="bold" fill="#262626" font-family="Liberation Sans, sans-serif"  stroke="#262626" stroke-width="0.25">0.4</text>
<text x="326.40" y="165.60" font-size="7.0" text-anchor="end" font-weight="bold" fill="#262626" font-family="Liberation Sans, sans-serif"  stroke="#262626" stroke-width="0.25">-2</text>
<text x="326.40" y="143.75" font-size="7.0" text-anchor="end" font-weight="bold" fill="#262626" font-family="Liberation Sans, sans-serif"  stroke="#262626" stroke-width="0.25">-1.5</text>
<text x="326.40" y="121.90" font-size="7.0" text-anchor="end" font-weight="bold" fill="#262626" font-family="Liberation Sans, sans-serif"  stroke="#262626" stroke-width="0.25">-1</text>
<text x="326.40" y="100.05" font-size="7.0" text-anchor="end" font-weight="bold" fill="#262626" font-family="Liberation Sans, sans-serif"  stroke="#262626" stroke-width="0.25">-0.5</text>
<text x="326.40" y="78.20" font-size="7.0" text-anchor="end" font-weight="bold" fill="#262626" font-family="Liberation Sans, sans-serif"  stroke="#262626" stroke-width="0.25">0</text>
<text x="326.40" y="56.35" font-size="7.0" text-anchor="end" font-weight="bold" fill="#262626" font-family="Liberation Sans, sans-serif"  stroke="#262626" stroke-width="0.25">0.5</text>
<text x="326.40" y="34.50" font-size="7.0" text-anchor="end" font-weight="bold" fill="#262626" font-family="Liberation Sans, sans-serif"  stroke="#262626" stroke-width="0.25">1</text>
<text x="326.40" y="12.65" font-size="7.0" text-anchor="end" font-weight="bold" fill="#262626" font-family="Liberation Sans, sans-serif"  stroke="#262626" stroke-width="0.25">1.5</text>
<text x="435.20" y="183.20" font-size="7.5" text-anchor="middle" font-weight="bold" fill="#262626" font-family="Liberation Sans, sans-serif"  stroke="#262626" stroke-width="0.25">t (s)</text>
<text transform="translate(312.20 94.10) rotate(-90)" font-size="8.3" text-anchor="middle" font-weight="bold" fill="#262626" stroke="#262626" stroke-width="0.25" font-family="Liberation Sans, sans-serif">err(r/min)</text>
<rect x="378.20" y="88.80" width="154.50" height="65.00" fill="#fff" stroke="none"/>
<clipPath id="c4"><rect x="378.20" y="88.80" width="154.50" height="65.00"/></clipPath>
<g clip-path="url(#c4)">
<path d="M401.2 88.8L398.8 153.8" fill="none" stroke="#74AB2C" stroke-width="1.6" stroke-linejoin="round" stroke-linecap="butt" />
<path d="M408.0 88.8L459.6 88.8L460.5 94.0L462.0 99.2L464.0 98.5L466.5 97.7L468.5 99.0L470.0 99.5L472.5 98.3L474.5 98.6L477.0 103.0L480.0 108.8L485.0 111.5L490.0 113.6L494.0 116.0L497.0 117.5L499.5 116.0L502.0 115.2L506.0 116.8L510.0 118.5L515.0 120.8L520.0 122.7L526.0 124.0L532.7 124.7L532.7 129.2L518.0 129.3L504.0 129.2L490.0 127.9L478.0 125.8L466.0 123.5L454.0 123.2L447.0 121.3L442.0 119.8L438.0 118.6L433.5 118.0L430.0 113.5L426.7 107.0L424.0 113.0L422.3 119.5L421.0 125.0L418.0 130.0L414.6 145.0L414.0 145.0L413.4 128.0L410.0 128.0L408.3 125.0Z" fill="#74AB2C" />
<path d="M381.0 149.5L384.4 141.5L388.6 133.0L390.8 114.0L392.0 112.0L394.0 116.0L396.5 121.0L399.0 124.0L404.0 125.0L410.0 124.5L416.4 124.5L416.8 130.0L410.0 133.0L400.0 137.5L392.0 142.0L384.0 147.5L381.0 150.5Z" fill="#62DC10" />
<path d="M389.1 153.8L389.4 130.0L390.7 113.0L392.1 101.2L392.9 100.4L394.0 103.0L396.0 110.0L398.0 116.0L400.5 119.5L404.0 120.3L408.0 119.8L410.5 120.5L410.5 124.0L406.0 124.5L402.0 124.5L399.0 123.3L396.5 120.0L394.5 115.0L393.0 111.0L392.0 116.0L390.8 130.0L390.4 153.8Z" fill="#FF2A1A" />
<path d="M402.0 140.0L410.0 134.0L416.0 128.0L418.7 124.2L420.5 121.5L422.3 119.6L426.6 119.5L430.0 119.1L433.9 118.5L436.0 117.6L438.5 118.8L441.0 120.0L448.3 122.6L455.5 123.8L459.0 123.4L462.7 123.0L467.0 123.8L472.0 124.6L476.0 126.0L480.5 128.2L483.0 130.0L485.0 131.5L485.0 135.2L470.0 135.7L450.0 136.4L440.0 137.3L430.0 138.4L420.0 140.6L410.0 144.0L402.0 146.5Z" fill="#7E2F8E" />
<path d="M378.2 147.6L384.0 145.0L390.0 142.3L395.0 139.6L400.0 137.0L405.0 134.5L410.0 132.0L415.0 130.0L420.0 127.8L425.0 126.9L430.0 126.7L435.0 127.0L442.0 128.0L454.0 128.8L466.0 129.4L478.0 130.0L490.0 130.4L497.0 131.0L504.0 132.2L516.0 133.0L528.0 134.2L532.7 134.9L532.7 136.7L520.0 136.1L500.0 135.5L480.0 134.9L460.0 134.9L440.0 135.3L430.0 136.2L420.0 137.6L410.0 140.5L400.0 144.5L392.0 149.5L384.0 153.8L378.2 153.8Z" fill="#B94FFF" />
</g>
<rect x="378.20" y="88.80" width="154.50" height="65.00" fill="none" stroke="#8a8a8a" stroke-width="0.6"/>
<path d="M388.30 153.80 v-1.2M388.30 88.80 v1.2M413.90 153.80 v-1.2M413.90 88.80 v1.2M439.50 153.80 v-1.2M439.50 88.80 v1.2M465.10 153.80 v-1.2M465.10 88.80 v1.2M490.70 153.80 v-1.2M490.70 88.80 v1.2M516.30 153.80 v-1.2M516.30 88.80 v1.2M378.20 150.03 h1.2M532.70 150.03 h-1.2M378.20 138.20 h1.2M532.70 138.20 h-1.2M378.20 126.37 h1.2M532.70 126.37 h-1.2M378.20 114.54 h1.2M532.70 114.54 h-1.2M378.20 102.71 h1.2M532.70 102.71 h-1.2M378.20 90.88 h1.2M532.70 90.88 h-1.2" stroke="#8a8a8a" stroke-width="0.5" fill="none"/>
<text x="388.30" y="160.10" font-size="5.2" text-anchor="middle" font-weight="normal" fill="#4d4d4d" font-family="Liberation Sans, sans-serif" >0.01</text>
<text x="413.90" y="160.10" font-size="5.2" text-anchor="middle" font-weight="normal" fill="#4d4d4d" font-family="Liberation Sans, sans-serif" >0.02</text>
<text x="439.50" y="160.10" font-size="5.2" text-anchor="middle" font-weight="normal" fill="#4d4d4d" font-family="Liberation Sans, sans-serif" >0.03</text>
<text x="465.10" y="160.10" font-size="5.2" text-anchor="middle" font-weight="normal" fill="#4d4d4d" font-family="Liberation Sans, sans-serif" >0.04</text>
<text x="490.70" y="160.10" font-size="5.2" text-anchor="middle" font-weight="normal" fill="#4d4d4d" font-family="Liberation Sans, sans-serif" >0.05</text>
<text x="516.30" y="160.10" font-size="5.2" text-anchor="middle" font-weight="normal" fill="#4d4d4d" font-family="Liberation Sans, sans-serif" >0.06</text>
<text x="376.20" y="151.83" font-size="4.9399999999999995" text-anchor="end" font-weight="normal" fill="#4d4d4d" font-family="Liberation Sans, sans-serif" >-0.1</text>
<text x="376.20" y="140.00" font-size="4.9399999999999995" text-anchor="end" font-weight="normal" fill="#4d4d4d" font-family="Liberation Sans, sans-serif" >0</text>
<text x="376.20" y="128.17" font-size="4.9399999999999995" text-anchor="end" font-weight="normal" fill="#4d4d4d" font-family="Liberation Sans, sans-serif" >0.1</text>
<text x="376.20" y="116.34" font-size="4.9399999999999995" text-anchor="end" font-weight="normal" fill="#4d4d4d" font-family="Liberation Sans, sans-serif" >0.2</text>
<text x="376.20" y="104.51" font-size="4.9399999999999995" text-anchor="end" font-weight="normal" fill="#4d4d4d" font-family="Liberation Sans, sans-serif" >0.3</text>
<text x="376.20" y="92.68" font-size="4.9399999999999995" text-anchor="end" font-weight="normal" fill="#4d4d4d" font-family="Liberation Sans, sans-serif" >0.4</text>
<ellipse cx="348.50" cy="69.90" rx="15.60" ry="11.30" fill="none" stroke="#111" stroke-width="1.6" stroke-dasharray="1.3 1.45"/>
<path d="M360.60 77.10 L373.40 85.61" stroke="#000" stroke-width="1.5" fill="none"/>
<path d="M377.00 88.00 L370.56 86.84 L373.40 85.61 L373.44 82.51 Z" fill="#000"/>
<rect x="492.50" y="14.25" width="41.90" height="35.95" fill="#fff" stroke="#222" stroke-width="1.1"/>
<path d="M494.70 19.20 H514.40" stroke="#FF6A60" stroke-width="0.8" fill="none"/>
<text x="516.80" y="21.11" font-size="5.3" text-anchor="start" font-weight="bold" fill="#000" font-family="Liberation Sans, sans-serif"  stroke="#000" stroke-width="0.25">CVSPI</text>
<path d="M494.70 25.90 H514.40" stroke="#A3C87C" stroke-width="0.9" fill="none"/>
<text x="516.80" y="27.81" font-size="5.3" text-anchor="start" font-weight="bold" fill="#000" font-family="Liberation Sans, sans-serif"  stroke="#000" stroke-width="0.25">PI</text>
<path d="M494.70 32.60 H514.40" stroke="#B5EE92" stroke-width="0.8" fill="none"/>
<text x="516.80" y="34.51" font-size="5.3" text-anchor="start" font-weight="bold" fill="#000" font-family="Liberation Sans, sans-serif"  stroke="#000" stroke-width="0.25">AWPI</text>
<path d="M494.70 39.30 H514.40" stroke="#C08ADB" stroke-width="0.9" fill="none" stroke-dasharray="2.6 2.6"/>
<text x="516.80" y="41.21" font-size="5.3" text-anchor="start" font-weight="bold" fill="#000" font-family="Liberation Sans, sans-serif"  stroke="#000" stroke-width="0.25">ADRC</text>
<path d="M494.70 46.00 H514.40" stroke="#D49BFF" stroke-width="1.6" fill="none"/>
<text x="516.80" y="47.91" font-size="5.3" text-anchor="start" font-weight="bold" fill="#000" font-family="Liberation Sans, sans-serif"  stroke="#000" stroke-width="0.25">STA</text>
<text x="425.9" y="199.1" font-size="13.3" text-anchor="middle" fill="#0a0a0a" font-family="Liberation Serif, serif">(<tspan font-weight="bold">b</tspan>)</text>
<clipPath id="c5"><rect x="31.60" y="213.10" width="210.40" height="158.10"/></clipPath>
<path d="M32.6 225.2L33.0 225.3L33.4 225.4L33.8 225.5L34.3 225.6L34.7 225.8L35.1 226.0L35.5 226.2L35.9 226.4L36.4 226.6L36.8 226.9L37.2 227.2L37.6 227.5L38.0 227.8L38.5 228.2L38.9 228.5L39.3 228.9L39.7 229.3L40.1 229.8L40.6 230.2L41.0 230.6L41.4 231.1L41.8 231.6L42.2 232.1L42.7 232.6L43.1 233.1L43.5 233.6L43.9 234.2L44.3 234.7L44.8 235.3" fill="none" stroke="#2089E0" stroke-width="1.7" stroke-linejoin="round" stroke-linecap="butt" stroke-dasharray="8 8" clip-path="url(#c5)"/>
<path d="M37.7 227.6L38.3 228.0L38.9 228.5L39.4 229.1L40.0 229.6L40.6 230.2L41.2 230.9L41.8 231.5L42.3 232.2L42.9 232.9L43.5 233.7L44.1 234.4L44.7 235.2L45.3 236.0L45.8 236.7L46.4 237.6L47.0 238.4L47.6 239.2L48.2 240.0L48.8 240.8L49.3 241.6L49.9 242.4L50.5 243.2L51.1 244.0L51.7 244.8L52.3 245.6L52.8 246.3L53.4 247.0L54.0 247.7L54.6 248.4" fill="none" stroke="#FF2A1A" stroke-width="1.6" stroke-linejoin="round" stroke-linecap="butt" clip-path="url(#c5)"/>
<path d="M32.6 304.1L33.2 294.2L33.3 292.3L33.7 284.8L34.0 281.4L34.3 276.1L34.7 271.4L34.9 268.2L35.3 262.7L35.5 261.0L36.0 251.8L36.1 251.5L36.6 241.0L36.7 239.5L37.2 232.6L37.4 229.9L37.8 226.3L38.1 223.8L38.4 222.2L38.8 220.4L38.9 219.9L39.5 218.5L39.5 218.4L40.1 218.8L40.2 219.0L40.7 220.4L40.9 221.2L41.3 223.6L41.6 225.8L41.8 227.8L42.2 231.2L42.4 232.6L42.9 235.4L43.0 235.6L43.6 236.8L43.6 236.9L44.1 237.2L44.3 237.2L44.7 237.2L45.0 237.1L45.3 237.1L45.7 237.2L45.9 237.3L46.4 237.5L46.5 237.5L47.0 238.0L47.1 238.1L47.6 238.7L47.8 238.9L48.2 239.4L48.5 239.8L48.8 240.2L49.2 240.8L49.4 241.1L49.8 241.8L49.9 242.0L50.5 242.9L50.5 242.9L51.1 243.8L51.2 244.1L51.7 244.8L51.9 245.1L52.2 245.5L52.6 246.0L52.8 246.3L53.3 246.9L53.4 247.0L54.0 247.7L54.0 247.7L54.6 248.4L54.7 248.5L55.1 249.0L55.4 249.3L55.7 249.6L56.1 250.0L56.3 250.2L56.7 250.7L56.9 250.8L57.4 251.3L57.4 251.3L58.0 251.8L58.1 251.9L58.6 252.2L58.8 252.4L59.2 252.6L59.5 252.8L59.8 253.0L60.2 253.3L60.3 253.3L60.9 253.6L60.9 253.6L61.5 253.9L61.6 253.9L62.1 254.1L62.3 254.1L62.6 254.2L63.0 254.3L63.2 254.3L63.6 254.4L63.8 254.4L64.3 254.4L64.4 254.4L65.0 254.4L65.0 254.4L65.5 254.3L65.7 254.3L66.1 254.2L66.4 254.2L66.7 254.1L67.1 253.9L67.3 253.9L67.8 253.7L67.9 253.6L68.4 253.3L68.5 253.3L69.0 253.0L69.2 252.9L69.6 252.7L69.9 252.5L70.2 252.2L70.6 251.9L70.7 251.8L71.2 251.4L71.3 251.3L71.9 250.8L71.9 250.8L72.5 250.2L72.6 250.1L73.1 249.7L73.3 249.4L73.6 249.0L74.0 248.6L74.2 248.4L74.7 247.8L74.8 247.7L75.4 247.0L75.4 247.0L75.9 246.3L76.1 246.2L76.5 245.6L76.8 245.3L77.1 244.8L77.5 244.4L77.7 244.1L78.1 243.4L78.3 243.3L78.8 242.5L78.8 242.5L79.4 241.7L79.5 241.5L80.0 240.9L80.2 240.6L80.6 240.1L80.9 239.6L81.1 239.3L81.6 238.6L81.7 238.5L82.3 237.7L82.3 237.6L82.9 236.8L83.0 236.7L83.5 236.1L83.7 235.8L84.0 235.3L84.4 234.9L85.1 234.0L85.7 233.1L86.4 232.2L87.1 231.4L87.8 230.6L88.5 229.9L89.2 229.2L89.9 228.6L90.6 228.0L91.3 227.4L92.0 226.9L92.6 226.5L93.3 226.1L94.0 225.8L94.7 225.6L95.4 225.4L96.1 225.2L96.8 225.2L97.5 225.2L98.2 225.2L98.9 225.4L99.5 225.6L100.2 225.8L100.9 226.1L101.6 226.5L102.3 226.9L103.0 227.4L103.7 228.0L104.4 228.6L105.1 229.2L105.8 229.9L106.5 230.6L107.1 231.4L107.8 232.2L108.5 233.1L109.2 234.0L109.9 234.9L110.6 235.8L111.3 236.7L112.0 237.7L112.7 238.6L113.4 239.6L114.0 240.6L114.7 241.5L115.4 242.5L116.1 243.4L116.8 244.4L117.5 245.3L118.2 246.2L118.9 247.0L119.6 247.8L120.3 248.6L120.9 249.4L121.6 250.1L122.3 250.8L123.0 251.4L123.7 251.9L124.4 252.5L125.1 252.9L125.8 253.3L126.5 253.7L127.2 253.9L127.9 254.2L128.5 254.3L129.2 254.4L129.9 254.4L130.6 254.4L131.3 254.3L132.0 254.1L132.7 253.9L133.4 253.6L134.1 253.3L134.8 252.8L135.4 252.4L136.1 251.9L136.8 251.3L137.5 250.7L138.2 250.0L138.9 249.3L139.6 248.5L140.3 247.7L141.0 246.9L141.7 246.0L142.3 245.1L143.0 244.2L143.7 243.3L144.4 242.3L145.1 241.4L145.8 240.4L146.5 239.4L147.2 238.5L147.9 237.5L148.6 236.6L149.3 235.6L149.9 234.7L150.6 233.8L151.3 232.9L152.0 232.1L152.7 231.3L153.4 230.5L154.1 229.8L154.8 229.1L155.5 228.5L156.2 227.9L156.8 227.3L157.5 226.9L158.2 226.4L158.9 226.1L159.6 225.8L160.3 225.5L161.0 225.3L161.7 225.2L162.4 225.2L163.1 225.2L163.8 225.3L164.4 225.4L165.1 225.6L165.8 225.9L166.5 226.2L167.2 226.6L167.9 227.0L168.6 227.5L169.3 228.1L170.0 228.7L170.7 229.3L171.3 230.0L172.0 230.8L172.7 231.6L173.4 232.4L174.1 233.2L174.8 234.1L175.5 235.0L176.2 235.9L176.9 236.9L177.6 237.8L178.2 238.8L178.9 239.8L179.6 240.7L180.3 241.7L181.0 242.6L181.7 243.6L182.4 244.5L183.1 245.4L183.8 246.3L184.5 247.2L185.2 248.0L185.8 248.8L186.5 249.5L187.2 250.2L187.9 250.9L188.6 251.5L189.3 252.0L190.0 252.5L190.7 253.0L191.4 253.4L192.1 253.7L192.7 254.0L193.4 254.2L194.1 254.3L194.8 254.4L195.5 254.4L196.2 254.4L196.9 254.3L197.6 254.1L198.3 253.8L199.0 253.5L199.6 253.2L200.3 252.8L201.0 252.3L201.7 251.8L202.4 251.2L203.1 250.5L203.8 249.9L204.5 249.1L205.2 248.4L205.9 247.6L206.6 246.7L207.2 245.9L207.9 245.0L208.6 244.1L209.3 243.1L210.0 242.2L210.7 241.2L211.4 240.2L212.1 239.3L212.8 238.3L213.5 237.3L214.1 236.4L214.8 235.5L215.5 234.5L216.2 233.7L216.9 232.8L217.6 232.0L218.3 231.2L219.0 230.4L219.7 229.7L220.4 229.0L221.1 228.4L221.7 227.8L222.4 227.3L223.1 226.8L223.8 226.4L224.5 226.0L225.2 225.7L225.9 225.5L226.6 225.3L227.3 225.2L228.0 225.2L228.6 225.2L229.3 225.3L230.0 225.4L230.7 225.6L231.4 225.9L232.1 226.3L232.8 226.6L233.5 227.1L234.2 227.6L234.9 228.2L235.5 228.8L236.2 229.4L236.9 230.2L237.6 230.9L238.3 231.7L239.0 232.5" fill="none" stroke="#74AB2C" stroke-width="1.5" stroke-linejoin="round" stroke-linecap="butt" clip-path="url(#c5)"/>
<path d="M32.6 304.1L33.2 294.2L33.3 292.3L33.7 284.8L34.0 281.4L34.3 276.1L34.7 271.4L34.9 268.3L35.3 262.8L35.5 261.1L36.0 250.0L36.1 249.6L36.6 243.8L36.7 243.3L37.2 242.2L37.4 242.0L37.8 241.6L38.1 241.4L38.4 241.2L38.8 241.0L38.9 240.9L39.5 240.8L39.5 240.8L40.1 240.8L40.2 240.9L40.7 241.0L40.9 241.0L41.3 241.1L41.6 241.2L41.8 241.4L42.2 241.5L42.4 241.6L42.9 241.8L43.0 241.8L43.6 242.1L43.6 242.1L44.1 242.5L44.3 242.6L44.7 242.8L45.0 243.0L45.3 243.2L45.7 243.5L45.9 243.7L46.4 244.0L46.5 244.1L47.0 244.6L47.1 244.6L47.6 245.1L47.8 245.2L48.2 245.6L48.5 245.9L48.8 246.2L49.2 246.6L49.4 246.8L49.8 247.3L49.9 247.4L50.5 248.1L50.5 248.1L51.1 248.7L51.2 248.8L51.7 249.3L51.9 249.5L52.2 249.8L52.6 250.2L52.8 250.4L53.3 250.8L53.4 250.9L54.0 251.4L54.0 251.4L54.6 251.9L54.7 252.0L55.1 252.4L55.4 252.6L55.7 252.9L56.1 253.3L56.3 253.5L56.7 253.8L56.9 253.9L57.4 254.4L57.4 254.4L58.0 254.8L58.1 254.8L58.6 255.1L58.8 255.2L59.2 255.4L59.5 255.5L59.8 255.6L60.2 255.6L60.3 255.6L60.9 255.7L60.9 255.7L61.5 255.8L61.6 255.8L62.1 255.9L62.3 255.9L62.6 255.9L63.0 256.0L63.2 256.0L63.6 256.0L63.8 256.0L64.3 256.1L64.4 256.1L65.0 256.1L65.0 256.1L65.5 256.1L65.7 256.1L66.1 256.1L66.4 256.1L66.7 256.1L67.1 256.0L67.3 256.0L67.8 255.8L67.9 255.8L68.4 255.6L68.5 255.5L69.0 255.3L69.2 255.2L69.6 255.0L69.9 254.9L70.2 254.7L70.6 254.5L70.7 254.4L71.2 254.1L71.3 254.0L71.9 253.5L71.9 253.5L72.5 252.9L72.6 252.8L73.1 252.3L73.3 252.0L73.6 251.7L74.0 251.3L74.2 251.0L74.7 250.4L74.8 250.3L75.4 249.5L75.4 249.5L75.9 248.6L76.1 248.4L76.5 247.7L76.8 247.3L77.1 246.7L77.5 246.1L77.7 245.7L78.1 244.9L78.3 244.7L78.8 243.7L78.8 243.7L79.4 242.7L79.5 242.5L80.0 241.7L80.2 241.3L80.6 240.7L80.9 240.1L81.1 239.7L81.6 238.8L81.7 238.6L82.3 237.7L82.3 237.6L82.9 236.8L83.0 236.7L83.5 236.1L83.7 235.8L84.0 235.3L84.4 234.9L85.1 234.0L85.7 233.1L86.4 232.2L87.1 231.4L87.8 230.6L88.5 229.9L89.2 229.2L89.9 228.6L90.6 228.0L91.3 227.4L92.0 226.9L92.6 226.5L93.3 226.1L94.0 225.8L94.7 225.6L95.4 225.4L96.1 225.2L96.8 225.2L97.5 225.2L98.2 225.2L98.9 225.4L99.5 225.6L100.2 225.8L100.9 226.1L101.6 226.5L102.3 226.9L103.0 227.4L103.7 228.0L104.4 228.6L105.1 229.2L105.8 229.9L106.5 230.6L107.1 231.4L107.8 232.2L108.5 233.1L109.2 234.0L109.9 234.9L110.6 235.8L111.3 236.7L112.0 237.7L112.7 238.6L113.4 239.6L114.0 240.6L114.7 241.5L115.4 242.5L116.1 243.4L116.8 244.4L117.5 245.3L118.2 246.2L118.9 247.0L119.6 247.8L120.3 248.6L120.9 249.4L121.6 250.1L122.3 250.8L123.0 251.4L123.7 251.9L124.4 252.5L125.1 252.9L125.8 253.3L126.5 253.7L127.2 253.9L127.9 254.2L128.5 254.3L129.2 254.4L129.9 254.4L130.6 254.4L131.3 254.3L132.0 254.1L132.7 253.9L133.4 253.6L134.1 253.3L134.8 252.8L135.4 252.4L136.1 251.9L136.8 251.3L137.5 250.7L138.2 250.0L138.9 249.3L139.6 248.5L140.3 247.7L141.0 246.9L141.7 246.0L142.3 245.1L143.0 244.2L143.7 243.3L144.4 242.3L145.1 241.4L145.8 240.4L146.5 239.4L147.2 238.5L147.9 237.5L148.6 236.6L149.3 235.6L149.9 234.7L150.6 233.8L151.3 232.9L152.0 232.1L152.7 231.3L153.4 230.5L154.1 229.8L154.8 229.1L155.5 228.5L156.2 227.9L156.8 227.3L157.5 226.9L158.2 226.4L158.9 226.1L159.6 225.8L160.3 225.5L161.0 225.3L161.7 225.2L162.4 225.2L163.1 225.2L163.8 225.3L164.4 225.4L165.1 225.6L165.8 225.9L166.5 226.2L167.2 226.6L167.9 227.0L168.6 227.5L169.3 228.1L170.0 228.7L170.7 229.3L171.3 230.0L172.0 230.8L172.7 231.6L173.4 232.4L174.1 233.2L174.8 234.1L175.5 235.0L176.2 235.9L176.9 236.9L177.6 237.8L178.2 238.8L178.9 239.8L179.6 240.7L180.3 241.7L181.0 242.6L181.7 243.6L182.4 244.5L183.1 245.4L183.8 246.3L184.5 247.2L185.2 248.0L185.8 248.8L186.5 249.5L187.2 250.2L187.9 250.9L188.6 251.5L189.3 252.0L190.0 252.5L190.7 253.0L191.4 253.4L192.1 253.7L192.7 254.0L193.4 254.2L194.1 254.3L194.8 254.4L195.5 254.4L196.2 254.4L196.9 254.3L197.6 254.1L198.3 253.8L199.0 253.5L199.6 253.2L200.3 252.8L201.0 252.3L201.7 251.8L202.4 251.2L203.1 250.5L203.8 249.9L204.5 249.1L205.2 248.4L205.9 247.6L206.6 246.7L207.2 245.9L207.9 245.0L208.6 244.1L209.3 243.1L210.0 242.2L210.7 241.2L211.4 240.2L212.1 239.3L212.8 238.3L213.5 237.3L214.1 236.4L214.8 235.5L215.5 234.5L216.2 233.7L216.9 232.8L217.6 232.0L218.3 231.2L219.0 230.4L219.7 229.7L220.4 229.0L221.1 228.4L221.7 227.8L222.4 227.3L223.1 226.8L223.8 226.4L224.5 226.0L225.2 225.7L225.9 225.5L226.6 225.3L227.3 225.2L228.0 225.2L228.6 225.2L229.3 225.3L230.0 225.4L230.7 225.6L231.4 225.9L232.1 226.3L232.8 226.6L233.5 227.1L234.2 227.6L234.9 228.2L235.5 228.8L236.2 229.4L236.9 230.2L237.6 230.9L238.3 231.7L239.0 232.5" fill="none" stroke="#62DC10" stroke-width="1.5" stroke-linejoin="round" stroke-linecap="butt" stroke-dasharray="1.3 1.3" clip-path="url(#c5)"/>
<path d="M32.6 343.1L33.2 338.3L33.3 337.3L33.7 333.4L34.0 331.6L34.3 328.6L34.7 325.8L34.9 323.8L35.3 319.9L35.5 318.8L36.0 314.5L36.1 314.4L36.6 310.5L36.7 309.9L37.2 307.1L37.4 305.9L37.8 303.8L38.1 302.1L38.4 300.8L38.8 298.7L38.9 298.0L39.5 295.6L39.5 295.4L40.1 292.9L40.2 292.6L40.7 290.3L40.9 289.3L41.3 287.4L41.6 285.8L41.8 284.3L42.2 282.1L42.4 281.1L42.9 278.3L43.0 278.0L43.6 274.8L43.6 274.5L44.1 271.4L44.3 270.4L44.7 268.1L45.0 266.7L45.3 265.3L45.7 263.7L45.9 263.0L46.4 261.1L46.5 260.8L47.0 258.9L47.1 258.8L47.6 257.1L47.8 256.7L48.2 255.5L48.5 254.8L48.8 254.0L49.2 253.2L49.4 252.7L49.8 251.7L49.9 251.5L50.5 250.3L50.5 250.2L51.1 249.2L51.2 249.0L51.7 248.3L51.9 248.0L52.2 247.6L52.6 247.3L52.8 247.2L53.3 246.9L53.4 246.9L54.0 246.6L54.0 246.6L54.6 246.5L54.7 246.5L55.1 246.6L55.4 246.7L55.7 246.8L56.1 247.0L56.3 247.1L56.7 247.4L56.9 247.4L57.4 247.9L57.4 247.9L58.0 248.4L58.1 248.5L58.6 249.1L58.8 249.3L59.2 249.8L59.5 250.2L59.8 250.5L60.2 251.0L60.3 251.2L60.9 251.8L60.9 251.8L61.5 252.4L61.6 252.4L62.1 252.8L62.3 252.9L62.6 253.1L63.0 253.3L63.2 253.4L63.6 253.6L63.8 253.7L64.3 254.0L64.4 254.0L65.0 254.2L65.0 254.2L65.5 254.4L65.7 254.4L66.1 254.4L66.4 254.4L66.7 254.4L67.1 254.4L67.3 254.4L67.8 254.3L67.9 254.3L68.4 254.1L68.5 254.1L69.0 254.0L69.2 253.9L69.6 253.7L69.9 253.6L70.2 253.5L70.6 253.3L70.7 253.2L71.2 252.9L71.3 252.8L71.9 252.4L71.9 252.4L72.5 252.0L72.6 251.9L73.1 251.5L73.3 251.3L73.6 251.0L74.0 250.7L74.2 250.5L74.7 250.0L74.8 249.9L75.4 249.3L75.4 249.3L75.9 248.7L76.1 248.5L76.5 248.0L76.8 247.7L77.1 247.3L77.5 246.9L77.7 246.6L78.1 246.0L78.3 245.9L78.8 245.1L78.8 245.1L79.4 244.4L79.5 244.2L80.0 243.6L80.2 243.3L80.6 242.8L80.9 242.3L81.1 242.0L81.6 241.4L81.7 241.2L82.3 240.4L82.3 240.4L82.9 239.6L83.0 239.5L83.5 238.8L83.7 238.5L84.0 238.0L84.4 237.5L85.1 236.6L85.7 235.6L86.4 234.7L87.1 233.8L87.8 232.9L88.5 232.1L89.2 231.3L89.9 230.5L90.6 229.8L91.3 229.1L92.0 228.5L92.6 227.9L93.3 227.4L94.0 226.9L94.7 226.4L95.4 226.1L96.1 225.8L96.8 225.5L97.5 225.4L98.2 225.2L98.9 225.2L99.5 225.2L100.2 225.3L100.9 225.4L101.6 225.6L102.3 225.9L103.0 226.2L103.7 226.6L104.4 227.0L105.1 227.5L105.8 228.1L106.5 228.7L107.1 229.3L107.8 230.0L108.5 230.8L109.2 231.5L109.9 232.4L110.6 233.2L111.3 234.1L112.0 235.0L112.7 235.9L113.4 236.9L114.0 237.8L114.7 238.8L115.4 239.7L116.1 240.7L116.8 241.7L117.5 242.6L118.2 243.6L118.9 244.5L119.6 245.4L120.3 246.3L120.9 247.1L121.6 248.0L122.3 248.8L123.0 249.5L123.7 250.2L124.4 250.9L125.1 251.5L125.8 252.0L126.5 252.5L127.2 253.0L127.9 253.4L128.5 253.7L129.2 254.0L129.9 254.2L130.6 254.3L131.3 254.4L132.0 254.4L132.7 254.4L133.4 254.3L134.1 254.1L134.8 253.9L135.4 253.6L136.1 253.2L136.8 252.8L137.5 252.3L138.2 251.8L138.9 251.2L139.6 250.6L140.3 249.9L141.0 249.2L141.7 248.4L142.3 247.6L143.0 246.7L143.7 245.9L144.4 245.0L145.1 244.1L145.8 243.1L146.5 242.2L147.2 241.2L147.9 240.3L148.6 239.3L149.3 238.3L149.9 237.4L150.6 236.4L151.3 235.5L152.0 234.6L152.7 233.7L153.4 232.8L154.1 232.0L154.8 231.2L155.5 230.4L156.2 229.7L156.8 229.0L157.5 228.4L158.2 227.8L158.9 227.3L159.6 226.8L160.3 226.4L161.0 226.0L161.7 225.7L162.4 225.5L163.1 225.3L163.8 225.2L164.4 225.2L165.1 225.2L165.8 225.3L166.5 225.4L167.2 225.6L167.9 225.9L168.6 226.2L169.3 226.6L170.0 227.1L170.7 227.6L171.3 228.2L172.0 228.8L172.7 229.4L173.4 230.1L174.1 230.9L174.8 231.7L175.5 232.5L176.2 233.4L176.9 234.2L177.6 235.1L178.2 236.1L178.9 237.0L179.6 238.0L180.3 238.9L181.0 239.9L181.7 240.9L182.4 241.8L183.1 242.8L183.8 243.7L184.5 244.7L185.2 245.6L185.8 246.4L186.5 247.3L187.2 248.1L187.9 248.9L188.6 249.6L189.3 250.3L190.0 251.0L190.7 251.6L191.4 252.1L192.1 252.6L192.7 253.1L193.4 253.4L194.1 253.8L194.8 254.0L195.5 254.2L196.2 254.3L196.9 254.4L197.6 254.4L198.3 254.4L199.0 254.2L199.6 254.1L200.3 253.8L201.0 253.5L201.7 253.1L202.4 252.7L203.1 252.2L203.8 251.7L204.5 251.1L205.2 250.4L205.9 249.8L206.6 249.0L207.2 248.3L207.9 247.4L208.6 246.6L209.3 245.7L210.0 244.8L210.7 243.9L211.4 243.0L212.1 242.0L212.8 241.1L213.5 240.1L214.1 239.1L214.8 238.2L215.5 237.2L216.2 236.3L216.9 235.3L217.6 234.4L218.3 233.5L219.0 232.7L219.7 231.8L220.4 231.0L221.1 230.3L221.7 229.6L222.4 228.9L223.1 228.3L223.8 227.7L224.5 227.2L225.2 226.7L225.9 226.3L226.6 226.0L227.3 225.7L228.0 225.5L228.6 225.3L229.3 225.2L230.0 225.2L230.7 225.2L231.4 225.3L232.1 225.5L232.8 225.7L233.5 226.0L234.2 226.3L234.9 226.7L235.5 227.2L236.2 227.7L236.9 228.3L237.6 228.9L238.3 229.6L239.0 230.3" fill="none" stroke="#7E2F8E" stroke-width="1.5" stroke-linejoin="round" stroke-linecap="butt" stroke-dasharray="4.5 3.5" clip-path="url(#c5)"/>
<path d="M32.6 312.9L33.2 308.1L33.3 307.2L33.7 303.5L34.0 301.8L34.3 299.2L34.7 296.9L34.9 295.2L35.3 292.2L35.5 291.4L36.0 287.8L36.1 287.7L36.6 284.2L36.7 283.6L37.2 280.8L37.4 279.7L37.8 277.6L38.1 275.8L38.4 274.4L38.8 272.1L38.9 271.3L39.5 268.6L39.5 268.4L40.1 265.7L40.2 265.4L40.7 263.2L40.9 262.4L41.3 260.8L41.6 259.5L41.8 258.4L42.2 256.7L42.4 256.1L42.9 254.1L43.0 253.9L43.6 251.9L43.6 251.7L44.1 250.1L44.3 249.6L44.7 248.5L45.0 247.8L45.3 247.1L45.7 246.2L45.9 245.8L46.4 244.7L46.5 244.6L47.0 243.4L47.1 243.3L47.6 242.4L47.8 242.2L48.2 241.6L48.5 241.3L48.8 241.1L49.2 240.9L49.4 240.8L49.8 240.7L49.9 240.7L50.5 240.7L50.5 240.7L51.1 240.8L51.2 240.9L51.7 241.2L51.9 241.4L52.2 241.7L52.6 242.0L52.8 242.2L53.3 242.7L53.4 242.8L54.0 243.6L54.0 243.6L54.6 244.4L54.7 244.6L55.1 245.3L55.4 245.7L55.7 246.2L56.1 246.7L56.3 247.0L56.7 247.6L56.9 247.7L57.4 248.4L57.4 248.4L58.0 249.1L58.1 249.2L58.6 249.7L58.8 250.0L59.2 250.4L59.5 250.7L59.8 251.0L60.2 251.4L60.3 251.6L60.9 252.1L60.9 252.1L61.5 252.5L61.6 252.6L62.1 252.9L62.3 253.0L62.6 253.2L63.0 253.4L63.2 253.5L63.6 253.7L63.8 253.8L64.3 254.0L64.4 254.0L65.0 254.2L65.0 254.2L65.5 254.4L65.7 254.4L66.1 254.4L66.4 254.4L66.7 254.4L67.1 254.4L67.3 254.4L67.8 254.3L67.9 254.3L68.4 254.1L68.5 254.1L69.0 254.0L69.2 253.9L69.6 253.7L69.9 253.6L70.2 253.5L70.6 253.3L70.7 253.2L71.2 252.9L71.3 252.8L71.9 252.4L71.9 252.4L72.5 252.0L72.6 251.9L73.1 251.5L73.3 251.3L73.6 251.0L74.0 250.7L74.2 250.5L74.7 250.0L74.8 249.9L75.4 249.3L75.4 249.3L75.9 248.7L76.1 248.5L76.5 248.0L76.8 247.7L77.1 247.3L77.5 246.9L77.7 246.6L78.1 246.0L78.3 245.9L78.8 245.1L78.8 245.1L79.4 244.4L79.5 244.2L80.0 243.6L80.2 243.3L80.6 242.8L80.9 242.3L81.1 242.0L81.6 241.4L81.7 241.2L82.3 240.4L82.3 240.4L82.9 239.6L83.0 239.5L83.5 238.8L83.7 238.5L84.0 238.0L84.4 237.5L85.1 236.6L85.7 235.6L86.4 234.7L87.1 233.8L87.8 232.9L88.5 232.1L89.2 231.3L89.9 230.5L90.6 229.8L91.3 229.1L92.0 228.5L92.6 227.9L93.3 227.4L94.0 226.9L94.7 226.4L95.4 226.1L96.1 225.8L96.8 225.5L97.5 225.4L98.2 225.2L98.9 225.2L99.5 225.2L100.2 225.3L100.9 225.4L101.6 225.6L102.3 225.9L103.0 226.2L103.7 226.6L104.4 227.0L105.1 227.5L105.8 228.1L106.5 228.7L107.1 229.3L107.8 230.0L108.5 230.8L109.2 231.5L109.9 232.4L110.6 233.2L111.3 234.1L112.0 235.0L112.7 235.9L113.4 236.9L114.0 237.8L114.7 238.8L115.4 239.7L116.1 240.7L116.8 241.7L117.5 242.6L118.2 243.6L118.9 244.5L119.6 245.4L120.3 246.3L120.9 247.1L121.6 248.0L122.3 248.8L123.0 249.5L123.7 250.2L124.4 250.9L125.1 251.5L125.8 252.0L126.5 252.5L127.2 253.0L127.9 253.4L128.5 253.7L129.2 254.0L129.9 254.2L130.6 254.3L131.3 254.4L132.0 254.4L132.7 254.4L133.4 254.3L134.1 254.1L134.8 253.9L135.4 253.6L136.1 253.2L136.8 252.8L137.5 252.3L138.2 251.8L138.9 251.2L139.6 250.6L140.3 249.9L141.0 249.2L141.7 248.4L142.3 247.6L143.0 246.7L143.7 245.9L144.4 245.0L145.1 244.1L145.8 243.1L146.5 242.2L147.2 241.2L147.9 240.3L148.6 239.3L149.3 238.3L149.9 237.4L150.6 236.4L151.3 235.5L152.0 234.6L152.7 233.7L153.4 232.8L154.1 232.0L154.8 231.2L155.5 230.4L156.2 229.7L156.8 229.0L157.5 228.4L158.2 227.8L158.9 227.3L159.6 226.8L160.3 226.4L161.0 226.0L161.7 225.7L162.4 225.5L163.1 225.3L163.8 225.2L164.4 225.2L165.1 225.2L165.8 225.3L166.5 225.4L167.2 225.6L167.9 225.9L168.6 226.2L169.3 226.6L170.0 227.1L170.7 227.6L171.3 228.2L172.0 228.8L172.7 229.4L173.4 230.1L174.1 230.9L174.8 231.7L175.5 232.5L176.2 233.4L176.9 234.2L177.6 235.1L178.2 236.1L178.9 237.0L179.6 238.0L180.3 238.9L181.0 239.9L181.7 240.9L182.4 241.8L183.1 242.8L183.8 243.7L184.5 244.7L185.2 245.6L185.8 246.4L186.5 247.3L187.2 248.1L187.9 248.9L188.6 249.6L189.3 250.3L190.0 251.0L190.7 251.6L191.4 252.1L192.1 252.6L192.7 253.1L193.4 253.4L194.1 253.8L194.8 254.0L195.5 254.2L196.2 254.3L196.9 254.4L197.6 254.4L198.3 254.4L199.0 254.2L199.6 254.1L200.3 253.8L201.0 253.5L201.7 253.1L202.4 252.7L203.1 252.2L203.8 251.7L204.5 251.1L205.2 250.4L205.9 249.8L206.6 249.0L207.2 248.3L207.9 247.4L208.6 246.6L209.3 245.7L210.0 244.8L210.7 243.9L211.4 243.0L212.1 242.0L212.8 241.1L213.5 240.1L214.1 239.1L214.8 238.2L215.5 237.2L216.2 236.3L216.9 235.3L217.6 234.4L218.3 233.5L219.0 232.7L219.7 231.8L220.4 231.0L221.1 230.3L221.7 229.6L222.4 228.9L223.1 228.3L223.8 227.7L224.5 227.2L225.2 226.7L225.9 226.3L226.6 226.0L227.3 225.7L228.0 225.5L228.6 225.3L229.3 225.2L230.0 225.2L230.7 225.2L231.4 225.3L232.1 225.5L232.8 225.7L233.5 226.0L234.2 226.3L234.9 226.7L235.5 227.2L236.2 227.7L236.9 228.3L237.6 228.9L238.3 229.6L239.0 230.3" fill="none" stroke="#B94FFF" stroke-width="1.6" stroke-linejoin="round" stroke-linecap="butt" clip-path="url(#c5)"/>
<path d="M32.60 216.10 V371.20 H240.00" fill="none" stroke="#000" stroke-width="1.7" stroke-linejoin="miter"/>
<path d="M34.94 371.20 v1.9M44.76 371.20 v1.9M54.58 371.20 v1.9M64.40 371.20 v1.9M74.22 371.20 v1.9M84.04 371.20 v1.9M93.86 371.20 v1.9M103.68 371.20 v1.9M113.50 371.20 v1.9M123.32 371.20 v1.9M133.14 371.20 v1.9M142.96 371.20 v1.9M152.78 371.20 v1.9M162.60 371.20 v1.9M172.42 371.20 v1.9M182.24 371.20 v1.9M192.06 371.20 v1.9M201.88 371.20 v1.9M211.70 371.20 v1.9M221.52 371.20 v1.9M231.34 371.20 v1.9M32.60 366.55 h-1.9M32.60 361.68 h-1.9M32.60 356.80 h-1.9M32.60 351.93 h-1.9M32.60 347.05 h-1.9M32.60 342.18 h-1.9M32.60 337.30 h-1.9M32.60 332.43 h-1.9M32.60 327.55 h-1.9M32.60 322.68 h-1.9M32.60 317.80 h-1.9M32.60 312.93 h-1.9M32.60 308.05 h-1.9M32.60 303.18 h-1.9M32.60 298.30 h-1.9M32.60 293.43 h-1.9M32.60 288.55 h-1.9M32.60 283.68 h-1.9M32.60 278.80 h-1.9M32.60 273.93 h-1.9M32.60 269.05 h-1.9M32.60 264.18 h-1.9M32.60 259.30 h-1.9M32.60 254.43 h-1.9M32.60 249.55 h-1.9M32.60 244.68 h-1.9M32.60 239.80 h-1.9M32.60 234.93 h-1.9M32.60 230.05 h-1.9M32.60 225.18 h-1.9M32.60 220.30 h-1.9M64.40 371.20 v2.9M113.50 371.20 v2.9M162.60 371.20 v2.9M211.70 371.20 v2.9M32.60 361.68 h-2.9M32.60 337.30 h-2.9M32.60 312.93 h-2.9M32.60 288.55 h-2.9M32.60 264.18 h-2.9M32.60 239.80 h-2.9" stroke="#000" stroke-width="1.3" fill="none"/>
<text x="64.40" y="381.90" font-size="7.0" text-anchor="middle" font-weight="bold" fill="#262626" font-family="Liberation Sans, sans-serif"  stroke="#262626" stroke-width="0.25">0.05</text>
<text x="113.50" y="381.90" font-size="7.0" text-anchor="middle" font-weight="bold" fill="#262626" font-family="Liberation Sans, sans-serif"  stroke="#262626" stroke-width="0.25">0.1</text>
<text x="162.60" y="381.90" font-size="7.0" text-anchor="middle" font-weight="bold" fill="#262626" font-family="Liberation Sans, sans-serif"  stroke="#262626" stroke-width="0.25">0.15</text>
<text x="211.70" y="381.90" font-size="7.0" text-anchor="middle" font-weight="bold" fill="#262626" font-family="Liberation Sans, sans-serif"  stroke="#262626" stroke-width="0.25">0.2</text>
<text x="28.80" y="364.18" font-size="7.0" text-anchor="end" font-weight="bold" fill="#262626" font-family="Liberation Sans, sans-serif"  stroke="#262626" stroke-width="0.25">300</text>
<text x="28.80" y="339.80" font-size="7.0" text-anchor="end" font-weight="bold" fill="#262626" font-family="Liberation Sans, sans-serif"  stroke="#262626" stroke-width="0.25">350</text>
<text x="28.80" y="315.43" font-size="7.0" text-anchor="end" font-weight="bold" fill="#262626" font-family="Liberation Sans, sans-serif"  stroke="#262626" stroke-width="0.25">400</text>
<text x="28.80" y="291.05" font-size="7.0" text-anchor="end" font-weight="bold" fill="#262626" font-family="Liberation Sans, sans-serif"  stroke="#262626" stroke-width="0.25">450</text>
<text x="28.80" y="266.68" font-size="7.0" text-anchor="end" font-weight="bold" fill="#262626" font-family="Liberation Sans, sans-serif"  stroke="#262626" stroke-width="0.25">500</text>
<text x="28.80" y="242.30" font-size="7.0" text-anchor="end" font-weight="bold" fill="#262626" font-family="Liberation Sans, sans-serif"  stroke="#262626" stroke-width="0.25">550</text>
<text x="136.30" y="390.30" font-size="7.5" text-anchor="middle" font-weight="bold" fill="#262626" font-family="Liberation Sans, sans-serif"  stroke="#262626" stroke-width="0.25">t (s)</text>
<text transform="translate(14.90 293.30) rotate(-90)" font-size="7.8" text-anchor="middle" font-weight="bold" fill="#262626" stroke="#262626" stroke-width="0.25" font-family="Liberation Sans, sans-serif">r/min</text>
<rect x="49.60" y="294.80" width="98.20" height="62.60" fill="#fff" stroke="none"/>
<clipPath id="c6"><rect x="49.60" y="294.80" width="98.20" height="62.60"/></clipPath>
<path d="M39.7 304.7L41.1 304.8L42.5 304.9L43.8 305.0L45.2 305.2L46.5 305.4L47.9 305.6L49.2 305.9L50.6 306.2L51.9 306.5L53.3 306.9L54.7 307.3L56.0 307.7L57.4 308.1L58.7 308.6L60.1 309.1L61.4 309.6L62.8 310.1L64.1 310.7L65.5 311.3L66.9 311.9L68.2 312.5L69.6 313.1L70.9 313.8L72.3 314.4L73.6 315.1L75.0 315.8L76.3 316.6L77.7 317.3L79.0 318.0" fill="none" stroke="#2089E0" stroke-width="1.7" stroke-linejoin="round" stroke-linecap="butt" stroke-dasharray="6.5 6.5" clip-path="url(#c6)" stroke-dashoffset="3.3"/>
<path d="M56.2 307.8L58.1 308.4L60.0 309.0L61.9 309.8L63.7 310.5L65.6 311.3L67.5 312.2L69.4 313.0L71.3 313.9L73.1 314.9L75.0 315.9L76.9 316.9L78.8 317.9L80.7 318.9L82.5 320.0L84.4 321.0L86.3 322.1L88.2 323.2L90.1 324.3L91.9 325.4L93.8 326.5L95.7 327.5L97.6 328.6L99.5 329.6L101.3 330.7L103.2 331.7L105.1 332.7L107.0 333.6L108.9 334.5L110.8 335.4" fill="none" stroke="#FF2A1A" stroke-width="1.9" stroke-linejoin="round" stroke-linecap="butt" clip-path="url(#c6)"/>
<path d="M39.7 409.5L41.0 400.4L41.6 396.2L42.3 391.8L43.5 383.8L43.5 383.5L44.8 375.6L45.3 372.3L46.0 368.1L47.2 361.8L47.3 361.3L48.6 354.9L49.1 352.2L49.8 347.6L50.9 339.5L51.1 338.4L52.4 328.8L52.8 325.6L53.6 320.6L54.7 314.4L54.9 313.3L56.1 307.5L56.5 306.1L57.4 303.3L58.4 300.6L58.7 300.1L59.9 298.0L60.3 297.5L61.2 296.4L62.1 295.7L62.4 295.6L63.7 295.9L64.0 296.2L65.0 297.2L65.9 298.3L66.2 298.9L67.5 301.8L67.7 302.5L68.7 305.5L69.6 308.0L70.0 309.3L71.3 313.8L71.5 314.5L72.5 317.1L73.3 318.5L73.8 319.1L75.0 320.0L75.2 320.1L76.3 320.4L77.1 320.6L77.6 320.6L78.8 320.5L78.9 320.5L80.1 320.5L80.8 320.5L81.4 320.5L82.6 320.6L82.7 320.6L83.9 320.9L84.5 321.0L85.1 321.1L86.4 321.6L86.4 321.7L87.7 322.3L88.3 322.6L88.9 322.9L90.1 323.5L90.2 323.6L91.4 324.3L92.0 324.6L92.7 325.0L93.9 325.7L94.0 325.8L95.2 326.6L95.7 326.9L96.5 327.4L97.6 328.1L97.7 328.2L99.0 329.0L99.5 329.4L100.3 329.9L101.3 330.7L101.5 330.8L102.8 331.4L103.2 331.7L104.0 332.1L105.1 332.6L105.3 332.8L106.6 333.4L106.9 333.6L107.8 334.0L108.8 334.5L109.1 334.7L110.4 335.3L110.7 335.4L111.6 335.8L112.5 336.3L112.9 336.4L114.1 337.0L114.4 337.1L115.4 337.5L116.3 337.9L116.7 338.0L117.9 338.5L118.1 338.6L119.2 339.0L120.0 339.3L120.4 339.4L121.7 339.9L121.9 339.9L123.0 340.3L123.7 340.5L124.2 340.7L125.5 341.0L125.6 341.1L126.7 341.4L127.5 341.6L128.0 341.7L129.3 342.0L129.3 342.0L130.5 342.2L131.2 342.4L131.8 342.5L133.0 342.7L133.1 342.7L134.3 342.9L134.9 343.0L135.6 343.0L136.8 343.2L136.8 343.2L138.1 343.3L138.7 343.3L139.4 343.4L140.5 343.4L140.6 343.4L141.9 343.4L142.4 343.4L143.1 343.4L144.3 343.4L144.4 343.4L145.7 343.4L146.1 343.3L146.9 343.3L148.0 343.2L148.2 343.2L149.4 343.0L149.9 343.0L150.7 342.9L151.7 342.7L152.0 342.7L153.6 342.4L155.5 342.0L157.3 341.6L159.2 341.1L161.1 340.6L162.9 340.0L164.8 339.3L166.7 338.6L168.5 337.9L170.4 337.1L172.3 336.3L174.1 335.5L176.0 334.6L177.9 333.6L179.7 332.7L181.6 331.7L183.5 330.7L185.3 329.7L187.2 328.7L189.1 327.6L190.9 326.5L192.8 325.5L194.7 324.4L196.5 323.3L198.4 322.2L200.3 321.2L202.1 320.1L204.0 319.1L205.9 318.0" fill="none" stroke="#74AB2C" stroke-width="1.9" stroke-linejoin="round" stroke-linecap="butt" clip-path="url(#c6)"/>
<path d="M39.7 409.5L41.0 400.4L41.6 396.2L42.3 391.8L43.5 383.8L43.5 383.5L44.8 375.6L45.3 372.3L46.0 368.1L47.2 361.8L47.3 361.3L48.6 355.1L49.1 352.3L49.8 347.3L50.9 337.1L51.1 335.9L52.4 330.7L52.8 329.4L53.6 327.9L54.7 327.2L54.9 327.1L56.1 326.6L56.5 326.4L57.4 326.1L58.4 325.9L58.7 325.8L59.9 325.6L60.3 325.5L61.2 325.4L62.1 325.4L62.4 325.4L63.7 325.4L64.0 325.4L65.0 325.5L65.9 325.6L66.2 325.6L67.5 325.8L67.7 325.8L68.7 325.9L69.6 326.1L70.0 326.2L71.3 326.4L71.5 326.4L72.5 326.6L73.3 326.7L73.8 326.8L75.0 327.1L75.2 327.1L76.3 327.4L77.1 327.5L77.6 327.7L78.8 328.0L78.9 328.0L80.1 328.4L80.8 328.6L81.4 328.8L82.6 329.1L82.7 329.2L83.9 329.5L84.5 329.7L85.1 329.9L86.4 330.4L86.4 330.4L87.7 330.8L88.3 331.0L88.9 331.3L90.1 331.8L90.2 331.8L91.4 332.3L92.0 332.5L92.7 332.8L93.9 333.3L94.0 333.4L95.2 333.9L95.7 334.2L96.5 334.5L97.6 335.0L97.7 335.0L99.0 335.6L99.5 335.8L100.3 336.1L101.3 336.6L101.5 336.7L102.8 337.2L103.2 337.3L104.0 337.7L105.1 338.1L105.3 338.1L106.6 338.6L106.9 338.7L107.8 339.0L108.8 339.4L109.1 339.5L110.4 340.0L110.7 340.1L111.6 340.4L112.5 340.8L112.9 340.9L114.1 341.4L114.4 341.5L115.4 341.8L116.3 342.2L116.7 342.3L117.9 342.7L118.1 342.8L119.2 343.1L120.0 343.4L120.4 343.5L121.7 343.9L121.9 343.9L123.0 344.2L123.7 344.4L124.2 344.5L125.5 344.7L125.6 344.7L126.7 344.9L127.5 344.9L128.0 345.0L129.3 345.1L129.3 345.1L130.5 345.1L131.2 345.2L131.8 345.2L133.0 345.3L133.1 345.3L134.3 345.4L134.9 345.4L135.6 345.4L136.8 345.5L136.8 345.5L138.1 345.5L138.7 345.5L139.4 345.6L140.5 345.6L140.6 345.6L141.9 345.6L142.4 345.7L143.1 345.7L144.3 345.7L144.4 345.7L145.7 345.7L146.1 345.7L146.9 345.7L148.0 345.7L148.2 345.7L149.4 345.7L149.9 345.7L150.7 345.6L151.7 345.5L152.0 345.5L153.6 345.3L155.5 345.0L157.3 344.6L159.2 344.2L161.1 343.9L162.9 343.4L164.8 342.9L166.7 342.2L168.5 341.5L170.4 340.7L172.3 339.8L174.1 338.9L176.0 338.0L177.9 336.9L179.7 335.7L181.6 334.5L183.5 333.2L185.3 331.9L187.2 330.5L189.1 329.2L190.9 327.9L192.8 326.6L194.7 325.2L196.5 323.8L198.4 322.4L200.3 321.2L202.1 320.1L204.0 319.1L205.9 318.0" fill="none" stroke="#62DC10" stroke-width="1.6" stroke-linejoin="round" stroke-linecap="butt" stroke-dasharray="1.4 1.5" clip-path="url(#c6)"/>
<path d="M39.7 461.3L41.0 456.9L41.6 454.8L42.3 452.6L43.5 448.4L43.5 448.2L44.8 443.9L45.3 442.0L46.0 439.6L47.2 435.5L47.3 435.2L48.6 430.7L49.1 429.0L49.8 426.5L50.9 423.1L51.1 422.6L52.4 419.2L52.8 418.0L53.6 415.9L54.7 413.4L54.9 412.9L56.1 410.0L56.5 409.1L57.4 407.2L58.4 405.0L58.7 404.5L59.9 402.0L60.3 401.3L61.2 399.7L62.1 397.9L62.4 397.4L63.7 395.1L64.0 394.6L65.0 392.8L65.9 391.1L66.2 390.4L67.5 387.8L67.7 387.2L68.7 385.0L69.6 383.1L70.0 382.3L71.3 379.4L71.5 378.9L72.5 376.6L73.3 374.7L73.8 373.7L75.0 370.9L75.2 370.5L76.3 367.9L77.1 366.0L77.6 364.8L78.8 361.9L78.9 361.7L80.1 359.2L80.8 357.9L81.4 356.9L82.6 354.9L82.7 354.8L83.9 352.9L84.5 352.0L85.1 351.1L86.4 349.4L86.4 349.4L87.7 347.8L88.3 347.0L88.9 346.2L90.1 344.9L90.2 344.8L91.4 343.5L92.0 342.9L92.7 342.3L93.9 341.2L94.0 341.1L95.2 340.0L95.7 339.5L96.5 338.9L97.6 337.9L97.7 337.8L99.0 336.8L99.5 336.5L100.3 336.0L101.3 335.3L101.5 335.2L102.8 334.6L103.2 334.4L104.0 334.1L105.1 333.9L105.3 333.8L106.6 333.5L106.9 333.4L107.8 333.2L108.8 333.1L109.1 333.1L110.4 333.0L110.7 333.0L111.6 333.0L112.5 333.1L112.9 333.1L114.1 333.3L114.4 333.4L115.4 333.6L116.3 333.7L116.7 333.8L117.9 334.1L118.1 334.2L119.2 334.5L120.0 334.7L120.4 334.9L121.7 335.4L121.9 335.5L123.0 336.0L123.7 336.4L124.2 336.6L125.5 337.2L125.6 337.3L126.7 337.9L127.5 338.2L128.0 338.5L129.3 339.1L129.3 339.2L130.5 339.7L131.2 340.0L131.8 340.3L133.0 340.7L133.1 340.7L134.3 341.1L134.9 341.3L135.6 341.4L136.8 341.7L136.8 341.7L138.1 342.0L138.7 342.1L139.4 342.3L140.5 342.5L140.6 342.5L141.9 342.8L142.4 342.8L143.1 343.0L144.3 343.1L144.4 343.2L145.7 343.3L146.1 343.4L146.9 343.4L148.0 343.4L148.2 343.4L149.4 343.4L149.9 343.4L150.7 343.4L151.7 343.4L152.0 343.4L153.6 343.3L155.5 343.1L157.3 342.8L159.2 342.5L161.1 342.2L162.9 341.8L164.8 341.3L166.7 340.8L168.5 340.2L170.4 339.6L172.3 338.9L174.1 338.2L176.0 337.4L177.9 336.6L179.7 335.8L181.6 334.9L183.5 334.0L185.3 333.1L187.2 332.1L189.1 331.1L190.9 330.1L192.8 329.1L194.7 328.0L196.5 327.0L198.4 325.9L200.3 324.8L202.1 323.7L204.0 322.7L205.9 321.6" fill="none" stroke="#7E2F8E" stroke-width="1.8" stroke-linejoin="round" stroke-linecap="butt" stroke-dasharray="6 4.5" clip-path="url(#c6)"/>
<path d="M39.7 421.2L41.0 416.8L41.6 414.8L42.3 412.6L43.5 408.7L43.5 408.5L44.8 404.6L45.3 403.0L46.0 400.9L47.2 397.6L47.3 397.3L48.6 393.9L49.1 392.5L49.8 390.5L50.9 387.7L51.1 387.3L52.4 384.1L52.8 383.0L53.6 381.1L54.7 378.5L54.9 378.1L56.1 375.1L56.5 374.2L57.4 372.2L58.4 370.0L58.7 369.4L59.9 366.7L60.3 365.9L61.2 364.0L62.1 362.0L62.4 361.4L63.7 359.0L64.0 358.5L65.0 356.7L65.9 355.1L66.2 354.5L67.5 352.3L67.7 351.9L68.7 350.2L69.6 348.7L70.0 348.1L71.3 346.0L71.5 345.7L72.5 344.0L73.3 342.8L73.8 342.1L75.0 340.3L75.2 340.1L76.3 338.6L77.1 337.7L77.6 337.1L78.8 335.7L78.9 335.6L80.1 334.4L80.8 333.7L81.4 333.2L82.6 332.1L82.7 332.0L83.9 330.9L84.5 330.4L85.1 329.9L86.4 328.8L86.4 328.8L87.7 327.9L88.3 327.5L88.9 327.1L90.1 326.4L90.2 326.4L91.4 325.9L92.0 325.7L92.7 325.5L93.9 325.4L94.0 325.4L95.2 325.3L95.7 325.2L96.5 325.2L97.6 325.2L97.7 325.2L99.0 325.3L99.5 325.4L100.3 325.6L101.3 325.9L101.5 326.0L102.8 326.4L103.2 326.5L104.0 326.8L105.1 327.2L105.3 327.3L106.6 327.8L106.9 328.0L107.8 328.5L108.8 329.0L109.1 329.2L110.4 330.0L110.7 330.2L111.6 330.8L112.5 331.4L112.9 331.6L114.1 332.4L114.4 332.5L115.4 333.1L116.3 333.6L116.7 333.8L117.9 334.4L118.1 334.5L119.2 335.0L120.0 335.4L120.4 335.7L121.7 336.3L121.9 336.3L123.0 336.9L123.7 337.2L124.2 337.5L125.5 338.0L125.6 338.1L126.7 338.6L127.5 338.9L128.0 339.1L129.3 339.6L129.3 339.7L130.5 340.1L131.2 340.3L131.8 340.5L133.0 340.9L133.1 340.9L134.3 341.3L134.9 341.4L135.6 341.5L136.8 341.8L136.8 341.8L138.1 342.1L138.7 342.2L139.4 342.4L140.5 342.6L140.6 342.6L141.9 342.8L142.4 342.9L143.1 343.0L144.3 343.2L144.4 343.2L145.7 343.3L146.1 343.4L146.9 343.5L148.0 343.4L148.2 343.4L149.4 343.4L149.9 343.4L150.7 343.4L151.7 343.4L152.0 343.4L153.6 343.3L155.5 343.1L157.3 342.8L159.2 342.5L161.1 342.2L162.9 341.8L164.8 341.3L166.7 340.8L168.5 340.2L170.4 339.6L172.3 338.9L174.1 338.2L176.0 337.4L177.9 336.6L179.7 335.8L181.6 334.9L183.5 334.0L185.3 333.1L187.2 332.1L189.1 331.1L190.9 330.1L192.8 329.1L194.7 328.0L196.5 327.0L198.4 325.9L200.3 324.8L202.1 323.7L204.0 322.7L205.9 321.6" fill="none" stroke="#B94FFF" stroke-width="1.8" stroke-linejoin="round" stroke-linecap="butt" clip-path="url(#c6)"/>
<rect x="49.60" y="294.80" width="98.20" height="62.60" fill="none" stroke="#8a8a8a" stroke-width="0.6"/>
<path d="M63.20 357.40 v-1.2M63.20 294.80 v1.2M79.05 357.40 v-1.2M79.05 294.80 v1.2M94.90 357.40 v-1.2M94.90 294.80 v1.2M110.75 357.40 v-1.2M110.75 294.80 v1.2M126.60 357.40 v-1.2M126.60 294.80 v1.2M142.45 357.40 v-1.2M142.45 294.80 v1.2M49.60 356.40 h1.2M147.80 356.40 h-1.2M49.60 343.45 h1.2M147.80 343.45 h-1.2M49.60 330.50 h1.2M147.80 330.50 h-1.2M49.60 317.55 h1.2M147.80 317.55 h-1.2M49.60 304.60 h1.2M147.80 304.60 h-1.2" stroke="#8a8a8a" stroke-width="0.5" fill="none"/>
<text x="63.20" y="363.70" font-size="5.6" text-anchor="middle" font-weight="normal" fill="#4d4d4d" font-family="Liberation Sans, sans-serif" >0.025</text>
<text x="79.05" y="363.70" font-size="5.6" text-anchor="middle" font-weight="normal" fill="#4d4d4d" font-family="Liberation Sans, sans-serif" >0.03</text>
<text x="94.90" y="363.70" font-size="5.6" text-anchor="middle" font-weight="normal" fill="#4d4d4d" font-family="Liberation Sans, sans-serif" >0.035</text>
<text x="110.75" y="363.70" font-size="5.6" text-anchor="middle" font-weight="normal" fill="#4d4d4d" font-family="Liberation Sans, sans-serif" >0.04</text>
<text x="126.60" y="363.70" font-size="5.6" text-anchor="middle" font-weight="normal" fill="#4d4d4d" font-family="Liberation Sans, sans-serif" >0.045</text>
<text x="142.45" y="363.70" font-size="5.6" text-anchor="middle" font-weight="normal" fill="#4d4d4d" font-family="Liberation Sans, sans-serif" >0.05</text>
<text x="47.60" y="358.20" font-size="5.319999999999999" text-anchor="end" font-weight="normal" fill="#4d4d4d" font-family="Liberation Sans, sans-serif" >500</text>
<text x="47.60" y="345.25" font-size="5.319999999999999" text-anchor="end" font-weight="normal" fill="#4d4d4d" font-family="Liberation Sans, sans-serif" >520</text>
<text x="47.60" y="332.30" font-size="5.319999999999999" text-anchor="end" font-weight="normal" fill="#4d4d4d" font-family="Liberation Sans, sans-serif" >540</text>
<text x="47.60" y="319.35" font-size="5.319999999999999" text-anchor="end" font-weight="normal" fill="#4d4d4d" font-family="Liberation Sans, sans-serif" >560</text>
<text x="47.60" y="306.40" font-size="5.319999999999999" text-anchor="end" font-weight="normal" fill="#4d4d4d" font-family="Liberation Sans, sans-serif" >580</text>
<rect x="160.70" y="294.80" width="88.40" height="62.60" fill="#fff" stroke="none"/>
<clipPath id="c7"><rect x="160.70" y="294.80" width="88.40" height="62.60"/></clipPath>
<path d="M158.4 362.1L160.9 360.7L163.4 359.1L165.8 357.4L168.3 355.6L170.8 353.7L173.2 351.6L175.7 349.5L178.2 347.3L180.6 345.1L183.1 342.8L185.6 340.4L188.1 338.0L190.5 335.6L193.0 333.1L195.5 330.7L197.9 328.2L200.4 325.8L202.9 323.4L205.3 321.0L207.8 318.7L210.3 316.5L212.8 314.3L215.2 312.2L217.7 310.2L220.2 308.3L222.6 306.5L225.1 304.8L227.6 303.3L230.0 301.9L232.5 300.6L235.0 299.5L237.5 298.5L239.9 297.6L242.4 297.0L244.9 296.5L247.3 296.1L249.8 295.9L252.3 295.9L254.7 296.1" fill="none" stroke="#FF2A1A" stroke-width="1.6" stroke-linejoin="round" stroke-linecap="butt" clip-path="url(#c7)"/>
<path d="M158.4 362.1L160.9 360.7L163.4 359.1L165.8 357.4L168.3 355.6L170.8 353.7L173.2 351.6L175.7 349.5L178.2 347.3L180.6 345.1L183.1 342.8L185.6 340.4L188.1 338.0L190.5 335.6L193.0 333.1L195.5 330.7L197.9 328.2L200.4 325.8L202.9 323.4L205.3 321.0L207.8 318.7L210.3 316.5L212.8 314.3L215.2 312.2L217.7 310.2L220.2 308.3L222.6 306.5L225.1 304.8L227.6 303.3L230.0 301.9L232.5 300.6L235.0 299.5L237.5 298.5L239.9 297.6L242.4 297.0L244.9 296.5L247.3 296.1L249.8 295.9L252.3 295.9L254.7 296.1" fill="none" stroke="#74AB2C" stroke-width="1.6" stroke-linejoin="round" stroke-linecap="butt" clip-path="url(#c7)"/>
<path d="M158.4 362.1L160.9 360.7L163.4 359.1L165.8 357.4L168.3 355.6L170.8 353.7L173.2 351.6L175.7 349.5L178.2 347.3L180.6 345.1L183.1 342.8L185.6 340.4L188.1 338.0L190.5 335.6L193.0 333.1L195.5 330.7L197.9 328.2L200.4 325.8L202.9 323.4L205.3 321.0L207.8 318.7L210.3 316.5L212.8 314.3L215.2 312.2L217.7 310.2L220.2 308.3L222.6 306.5L225.1 304.8L227.6 303.3L230.0 301.9L232.5 300.6L235.0 299.5L237.5 298.5L239.9 297.6L242.4 297.0L244.9 296.5L247.3 296.1L249.8 295.9L252.3 295.9L254.7 296.1" fill="none" stroke="#62DC10" stroke-width="1.6" stroke-linejoin="round" stroke-linecap="butt" stroke-dasharray="1.4 1.5" clip-path="url(#c7)"/>
<path d="M158.4 365.4L160.9 364.4L163.4 363.2L165.8 361.8L168.3 360.3L170.8 358.7L173.2 357.0L175.7 355.2L178.2 353.2L180.6 351.2L183.1 349.1L185.6 346.9L188.1 344.6L190.5 342.3L193.0 339.9L195.5 337.5L197.9 335.0L200.4 332.6L202.9 330.1L205.3 327.7L207.8 325.3L210.3 322.9L212.8 320.5L215.2 318.2L217.7 316.0L220.2 313.8L222.6 311.8L225.1 309.8L227.6 307.9L230.0 306.1L232.5 304.5L235.0 303.0L237.5 301.6L239.9 300.3L242.4 299.2L244.9 298.3L247.3 297.5L249.8 296.9L252.3 296.4L254.7 296.1" fill="none" stroke="#7E2F8E" stroke-width="1.8" stroke-linejoin="round" stroke-linecap="butt" stroke-dasharray="6 4.5" clip-path="url(#c7)"/>
<path d="M158.4 365.4L160.9 364.4L163.4 363.2L165.8 361.8L168.3 360.3L170.8 358.7L173.2 357.0L175.7 355.2L178.2 353.2L180.6 351.2L183.1 349.1L185.6 346.9L188.1 344.6L190.5 342.3L193.0 339.9L195.5 337.5L197.9 335.0L200.4 332.6L202.9 330.1L205.3 327.7L207.8 325.3L210.3 322.9L212.8 320.5L215.2 318.2L217.7 316.0L220.2 313.8L222.6 311.8L225.1 309.8L227.6 307.9L230.0 306.1L232.5 304.5L235.0 303.0L237.5 301.6L239.9 300.3L242.4 299.2L244.9 298.3L247.3 297.5L249.8 296.9L252.3 296.4L254.7 296.1" fill="none" stroke="#B94FFF" stroke-width="1.5" stroke-linejoin="round" stroke-linecap="butt" clip-path="url(#c7)"/>
<rect x="160.70" y="294.80" width="88.40" height="62.60" fill="none" stroke="#8a8a8a" stroke-width="0.6"/>
<path d="M165.30 357.40 v-1.2M165.30 294.80 v1.2M182.50 357.40 v-1.2M182.50 294.80 v1.2M199.70 357.40 v-1.2M199.70 294.80 v1.2M216.90 357.40 v-1.2M216.90 294.80 v1.2M234.10 357.40 v-1.2M234.10 294.80 v1.2M160.70 356.30 h1.2M249.10 356.30 h-1.2M160.70 344.22 h1.2M249.10 344.22 h-1.2M160.70 332.14 h1.2M249.10 332.14 h-1.2M160.70 320.06 h1.2M249.10 320.06 h-1.2M160.70 307.98 h1.2M249.10 307.98 h-1.2M160.70 295.90 h1.2M249.10 295.90 h-1.2" stroke="#8a8a8a" stroke-width="0.5" fill="none"/>
<text x="165.30" y="363.70" font-size="5.0" text-anchor="middle" font-weight="normal" fill="#4d4d4d" font-family="Liberation Sans, sans-serif" >0.125</text>
<text x="182.50" y="363.70" font-size="5.0" text-anchor="middle" font-weight="normal" fill="#4d4d4d" font-family="Liberation Sans, sans-serif" >0.13</text>
<text x="199.70" y="363.70" font-size="5.0" text-anchor="middle" font-weight="normal" fill="#4d4d4d" font-family="Liberation Sans, sans-serif" >0.135</text>
<text x="216.90" y="363.70" font-size="5.0" text-anchor="middle" font-weight="normal" fill="#4d4d4d" font-family="Liberation Sans, sans-serif" >0.14</text>
<text x="234.10" y="363.70" font-size="5.0" text-anchor="middle" font-weight="normal" fill="#4d4d4d" font-family="Liberation Sans, sans-serif" >0.145</text>
<text x="158.70" y="358.10" font-size="4.75" text-anchor="end" font-weight="normal" fill="#4d4d4d" font-family="Liberation Sans, sans-serif" >530</text>
<text x="158.70" y="346.02" font-size="4.75" text-anchor="end" font-weight="normal" fill="#4d4d4d" font-family="Liberation Sans, sans-serif" >540</text>
<text x="158.70" y="333.94" font-size="4.75" text-anchor="end" font-weight="normal" fill="#4d4d4d" font-family="Liberation Sans, sans-serif" >550</text>
<text x="158.70" y="321.86" font-size="4.75" text-anchor="end" font-weight="normal" fill="#4d4d4d" font-family="Liberation Sans, sans-serif" >560</text>
<text x="158.70" y="309.78" font-size="4.75" text-anchor="end" font-weight="normal" fill="#4d4d4d" font-family="Liberation Sans, sans-serif" >570</text>
<text x="158.70" y="297.70" font-size="4.75" text-anchor="end" font-weight="normal" fill="#4d4d4d" font-family="Liberation Sans, sans-serif" >580</text>
<ellipse cx="44.90" cy="242.50" rx="16.10" ry="14.00" fill="none" stroke="#111" stroke-width="1.6" stroke-dasharray="1.3 1.45"/>
<path d="M54.70 256.30 L75.36 290.31" stroke="#000" stroke-width="1.5" fill="none"/>
<path d="M77.60 294.00 L72.26 290.22 L75.36 290.31 L76.71 287.52 Z" fill="#000"/>
<ellipse cx="148.30" cy="238.00" rx="16.30" ry="14.00" fill="none" stroke="#111" stroke-width="1.6" stroke-dasharray="1.3 1.45"/>
<path d="M156.10 251.80 L176.91 289.42" stroke="#000" stroke-width="1.5" fill="none"/>
<path d="M179.00 293.20 L173.82 289.21 L176.91 289.42 L178.37 286.69 Z" fill="#000"/>
<rect x="212.10" y="244.70" width="38.20" height="31.30" fill="#fff" stroke="#111" stroke-width="1.4"/>
<path d="M214.10 247.60 H233.20" stroke="#2089E0" stroke-width="1.5" fill="none" stroke-dasharray="5.2 6"/>
<text x="235.80" y="249.04" font-size="4.0" text-anchor="start" font-weight="bold" fill="#000" font-family="Liberation Sans, sans-serif"  stroke="#000" stroke-width="0.25">nref</text>
<path d="M214.10 252.40 H233.20" stroke="#FF2A1A" stroke-width="1.3" fill="none"/>
<text x="235.80" y="253.84" font-size="4.0" text-anchor="start" font-weight="bold" fill="#000" font-family="Liberation Sans, sans-serif"  stroke="#000" stroke-width="0.25">CVSPI</text>
<path d="M214.10 257.30 H233.20" stroke="#74AB2C" stroke-width="1.3" fill="none"/>
<text x="235.80" y="258.74" font-size="4.0" text-anchor="start" font-weight="bold" fill="#000" font-family="Liberation Sans, sans-serif"  stroke="#000" stroke-width="0.25">PI</text>
<path d="M214.10 262.40 H233.20" stroke="#62DC10" stroke-width="1.5" fill="none" stroke-dasharray="1.3 1.1"/>
<text x="235.80" y="263.84" font-size="4.0" text-anchor="start" font-weight="bold" fill="#000" font-family="Liberation Sans, sans-serif"  stroke="#000" stroke-width="0.25">AWPI</text>
<path d="M214.10 267.50 H233.20" stroke="#7E2F8E" stroke-width="1.4" fill="none" stroke-dasharray="5.2 6"/>
<text x="235.80" y="268.94" font-size="4.0" text-anchor="start" font-weight="bold" fill="#000" font-family="Liberation Sans, sans-serif"  stroke="#000" stroke-width="0.25">ADRC</text>
<path d="M214.10 272.50 H233.20" stroke="#B94FFF" stroke-width="1.5" fill="none"/>
<text x="235.80" y="273.94" font-size="4.0" text-anchor="start" font-weight="bold" fill="#000" font-family="Liberation Sans, sans-serif"  stroke="#000" stroke-width="0.25">STA</text>
<text x="127.4" y="405.6" font-size="13.3" text-anchor="middle" fill="#0a0a0a" font-family="Liberation Serif, serif">(<tspan font-weight="bold">c</tspan>)</text>
<path d="M331.7 294.0L332.3 310.0L333.0 326.0L333.6 331.7L334.5 326.0L336.0 314.0L337.5 300.0L338.5 285.0L339.5 268.0L340.3 258.0L341.2 255.5L342.0 258.0L342.8 268.0L343.4 290.0L343.8 330.0L344.1 362.0L344.5 330.0L345.0 280.0L345.5 250.0L345.9 239.5L346.4 250.0L347.0 275.0L347.6 287.0L348.3 280.0L349.3 273.0L350.2 275.0L351.3 282.0L352.5 288.0L354.0 292.0L356.0 295.0L358.0 297.0L360.0 297.8L362.0 297.3" fill="none" stroke="#74AB2C" stroke-width="2.1" stroke-linejoin="round" stroke-linecap="butt" />
<path d="M362.0 297.3L366.1 296.7L366.8 296.4L367.4 296.0L368.1 295.6L368.8 295.2L369.5 294.8L370.2 294.3L370.8 293.8L371.5 293.3L372.2 292.9L372.9 292.5L373.6 292.1L374.2 291.7L374.9 291.5L375.6 291.2L376.3 291.1L377.0 291.0L377.6 291.0L378.3 291.1L379.0 291.2L379.7 291.5L380.4 291.7L381.0 292.1L381.7 292.5L382.4 292.9L383.1 293.4L383.8 293.8L384.5 294.3L385.1 294.8L385.8 295.2L386.5 295.6L387.2 296.0L387.9 296.4L388.5 296.7L389.2 296.9L389.9 297.2L390.6 297.3L391.3 297.4L391.9 297.5L392.6 297.6L393.3 297.6L394.0 297.6L394.7 297.6L395.3 297.6L396.0 297.6L396.7 297.5L397.4 297.5L398.1 297.4L398.7 297.2L399.4 297.1L400.1 296.8L400.8 296.5L401.5 296.2L402.1 295.9L402.8 295.4L403.5 295.0L404.2 294.5L404.9 294.1L405.5 293.6L406.2 293.1L406.9 292.7L407.6 292.3L408.3 291.9L408.9 291.6L409.6 291.3L410.3 291.2L411.0 291.0L411.7 291.0L412.3 291.0L413.0 291.1L413.7 291.3L414.4 291.6L415.1 291.9L415.7 292.2L416.4 292.7L417.1 293.1L417.8 293.6L418.5 294.0L419.1 294.5L419.8 295.0L420.5 295.4L421.2 295.8L421.9 296.2L422.5 296.5L423.2 296.8L423.9 297.0L424.6 297.2L425.3 297.4L425.9 297.5L426.6 297.5L427.3 297.6L428.0 297.6L428.7 297.6L429.4 297.6L430.0 297.6L430.7 297.6L431.4 297.5L432.1 297.4L432.8 297.3L433.4 297.2L434.1 297.0L434.8 296.7L435.5 296.4L436.2 296.1L436.8 295.7L437.5 295.3L438.2 294.8L438.9 294.3L439.6 293.9L440.2 293.4L440.9 292.9L441.6 292.5L442.3 292.1L443.0 291.8L443.6 291.5L444.3 291.3L445.0 291.1L445.7 291.0L446.4 291.0L447.0 291.1L447.7 291.2L448.4 291.4L449.1 291.7L449.8 292.0L450.4 292.4L451.1 292.8L451.8 293.3L452.5 293.8L453.2 294.2L453.8 294.7L454.5 295.2L455.2 295.6L455.9 296.0L456.6 296.3L457.2 296.6L457.9 296.9L458.6 297.1L459.3 297.3L460.0 297.4L460.6 297.5L461.3 297.6L462.0 297.6L462.7 297.6L463.4 297.6L464.0 297.6L464.7 297.6L465.4 297.6L466.1 297.5L466.8 297.4L467.4 297.3L468.1 297.1L468.8 296.9L469.5 296.6L470.2 296.3L470.8 295.9L471.5 295.5L472.2 295.1L472.9 294.6L473.6 294.1L474.3 293.7L474.9 293.2L475.6 292.8L476.3 292.3L477.0 292.0L477.7 291.6L478.3 291.4L479.0 291.2L479.7 291.1L480.4 291.0L481.1 291.0L481.7 291.1L482.4 291.3L483.1 291.5L483.8 291.8L484.5 292.2L485.1 292.6L485.8 293.0L486.5 293.5L487.2 294.0L487.9 294.4L488.5 294.9L489.2 295.3L489.9 295.8L490.6 296.1L491.3 296.5L491.9 296.8L492.6 297.0L493.3 297.2L494.0 297.4L494.7 297.5L495.3 297.5L496.0 297.6L496.7 297.6L497.4 297.6L498.1 297.6L498.7 297.6L499.4 297.6L500.1 297.5L500.8 297.5L501.5 297.3L502.1 297.2L502.8 297.0L503.5 296.7L504.2 296.5L504.9 296.1L505.5 295.7L506.2 295.3L506.9 294.9L507.6 294.4L508.3 293.9L508.9 293.5L509.6 293.0L510.3 292.6L511.0 292.2L511.7 291.8L512.3 291.5L513.0 291.3L513.7 291.1L514.4 291.0L515.1 291.0L515.7 291.1L516.4 291.2L517.1 291.4L517.8 291.7L518.5 292.0L519.2 292.4L519.8 292.8L520.5 293.2L521.2 293.7L521.9 294.2L522.6 294.6L523.2 295.1L523.9 295.5L524.6 295.9L525.3 296.3L526.0 296.6L526.6 296.9L527.3 297.1L528.0 297.3L528.7 297.4L529.4 297.5L530.0 297.6L530.7 297.6L531.4 297.6L532.1 297.6L532.8 297.6L533.4 297.6L534.1 297.6L534.8 297.5L535.5 297.4L536.2 297.3L536.8 297.1L537.5 296.9L538.2 296.6" fill="none" stroke="#74AB2C" stroke-width="3.0" stroke-linejoin="round" stroke-linecap="butt" />
<path d="M339.3 285.0L339.8 266.0L340.5 257.0L341.2 254.8L342.2 257.0L343.0 268.0L343.3 285.0Z" fill="#74AB2C" />
<path d="M343.0 312.0L343.1 322.0" fill="none" stroke="#E8732A" stroke-width="0.9" stroke-linejoin="round" stroke-linecap="butt" />
<path d="M331.7 297.0L332.6 322.0L333.2 332.0L334.0 332.0L335.2 322.0L336.9 309.0L339.0 297.0Z" fill="#74AB2C" />
<path d="M331.7 296.0L333.0 292.0L335.0 288.5L337.0 286.5L339.0 285.5L341.0 286.0L344.0 288.0L348.0 290.5L352.0 292.0L356.0 293.0L360.0 293.1L366.0 293.4L366.0 295.0L362.0 296.0L356.0 296.6L350.0 297.2L345.0 297.5L340.0 297.8L337.0 298.3L335.0 299.5L333.5 304.0L332.5 312.0L331.7 322.0Z" fill="#B94FFF" />
<path d="M360.0 294.6L361.1 294.6L362.2 294.6L363.4 294.5L364.5 294.4L365.6 294.4L366.7 294.3L367.8 294.2L369.0 294.1L370.1 294.0L371.2 293.9L372.3 293.8L373.4 293.7L374.6 293.7L375.7 293.6L376.8 293.6L377.9 293.6L379.1 293.6L380.2 293.7L381.3 293.7L382.4 293.8L383.5 293.9L384.7 294.0L385.8 294.1L386.9 294.2L388.0 294.3L389.1 294.4L390.3 294.5L391.4 294.5L392.5 294.6L393.6 294.6L394.7 294.6L395.9 294.6L397.0 294.5L398.1 294.5L399.2 294.4L400.3 294.3L401.5 294.2L402.6 294.1L403.7 294.0L404.8 293.9L406.0 293.9L407.1 293.8L408.2 293.7L409.3 293.6L410.4 293.6L411.6 293.6L412.7 293.6L413.8 293.6L414.9 293.7L416.0 293.7L417.2 293.8L418.3 293.9L419.4 294.0L420.5 294.1L421.6 294.2L422.8 294.3L423.9 294.4L425.0 294.5L426.1 294.5L427.2 294.6L428.4 294.6L429.5 294.6L430.6 294.6L431.7 294.5L432.8 294.5L434.0 294.4L435.1 294.3L436.2 294.2L437.3 294.1L438.5 294.0L439.6 293.9L440.7 293.8L441.8 293.7L442.9 293.7L444.1 293.6L445.2 293.6L446.3 293.6L447.4 293.6L448.5 293.6L449.7 293.7L450.8 293.8L451.9 293.9L453.0 293.9L454.1 294.0L455.3 294.2L456.4 294.3L457.5 294.3L458.6 294.4L459.7 294.5L460.9 294.6L462.0 294.6L463.1 294.6L464.2 294.6L465.4 294.6L466.5 294.5L467.6 294.5L468.7 294.4L469.8 294.3L471.0 294.2L472.1 294.1L473.2 294.0L474.3 293.9L475.4 293.8L476.6 293.7L477.7 293.7L478.8 293.6L479.9 293.6L481.0 293.6L482.2 293.6L483.3 293.7L484.4 293.7L485.5 293.8L486.6 293.9L487.8 294.0L488.9 294.1L490.0 294.2L491.1 294.3L492.2 294.4L493.4 294.5L494.5 294.5L495.6 294.6L496.7 294.6L497.9 294.6L499.0 294.6L500.1 294.6L501.2 294.5L502.3 294.4L503.5 294.3L504.6 294.3L505.7 294.2L506.8 294.1L507.9 294.0L509.1 293.9L510.2 293.8L511.3 293.7L512.4 293.7L513.5 293.6L514.7 293.6L515.8 293.6L516.9 293.6L518.0 293.7L519.1 293.7L520.3 293.8L521.4 293.9L522.5 294.0L523.6 294.1L524.8 294.2L525.9 294.3L527.0 294.4L528.1 294.5L529.2 294.5L530.4 294.6L531.5 294.6L532.6 294.6L533.7 294.6L534.8 294.5L536.0 294.5L537.1 294.4L538.2 294.3" fill="none" stroke="#B94FFF" stroke-width="1.4" stroke-linejoin="round" stroke-linecap="butt" />
<path d="M331.60 217.20 V370.80 H538.30" fill="none" stroke="#000" stroke-width="1.7" stroke-linejoin="miter"/>
<path d="M331.70 370.80 v1.9M336.86 370.80 v1.9M342.03 370.80 v1.9M347.19 370.80 v1.9M352.35 370.80 v1.9M357.51 370.80 v1.9M362.68 370.80 v1.9M367.84 370.80 v1.9M373.00 370.80 v1.9M378.17 370.80 v1.9M383.33 370.80 v1.9M388.49 370.80 v1.9M393.66 370.80 v1.9M398.82 370.80 v1.9M403.98 370.80 v1.9M409.14 370.80 v1.9M414.31 370.80 v1.9M419.47 370.80 v1.9M424.63 370.80 v1.9M429.80 370.80 v1.9M434.96 370.80 v1.9M440.12 370.80 v1.9M445.29 370.80 v1.9M450.45 370.80 v1.9M455.61 370.80 v1.9M460.77 370.80 v1.9M465.94 370.80 v1.9M471.10 370.80 v1.9M476.26 370.80 v1.9M481.43 370.80 v1.9M486.59 370.80 v1.9M491.75 370.80 v1.9M496.92 370.80 v1.9M502.08 370.80 v1.9M507.24 370.80 v1.9M512.40 370.80 v1.9M517.57 370.80 v1.9M522.73 370.80 v1.9M527.89 370.80 v1.9M533.06 370.80 v1.9M538.22 370.80 v1.9M331.60 370.40 h-1.9M331.60 365.29 h-1.9M331.60 360.18 h-1.9M331.60 355.07 h-1.9M331.60 349.96 h-1.9M331.60 344.85 h-1.9M331.60 339.74 h-1.9M331.60 334.63 h-1.9M331.60 329.52 h-1.9M331.60 324.41 h-1.9M331.60 319.30 h-1.9M331.60 314.19 h-1.9M331.60 309.08 h-1.9M331.60 303.97 h-1.9M331.60 298.86 h-1.9M331.60 293.75 h-1.9M331.60 288.64 h-1.9M331.60 283.53 h-1.9M331.60 278.42 h-1.9M331.60 273.31 h-1.9M331.60 268.20 h-1.9M331.60 263.09 h-1.9M331.60 257.98 h-1.9M331.60 252.87 h-1.9M331.60 247.76 h-1.9M331.60 242.65 h-1.9M331.60 237.54 h-1.9M331.60 232.43 h-1.9M331.60 227.32 h-1.9M331.60 222.21 h-1.9M331.60 217.10 h-1.9M331.70 370.80 v2.9M357.51 370.80 v2.9M383.33 370.80 v2.9M409.14 370.80 v2.9M434.96 370.80 v2.9M460.77 370.80 v2.9M486.59 370.80 v2.9M512.40 370.80 v2.9M538.22 370.80 v2.9M331.60 370.40 h-2.9M331.60 344.85 h-2.9M331.60 319.30 h-2.9M331.60 293.75 h-2.9M331.60 268.20 h-2.9M331.60 242.65 h-2.9M331.60 217.10 h-2.9" stroke="#000" stroke-width="1.3" fill="none"/>
<text x="331.70" y="381.50" font-size="7.0" text-anchor="middle" font-weight="bold" fill="#262626" font-family="Liberation Sans, sans-serif"  stroke="#262626" stroke-width="0.25">0</text>
<text x="357.51" y="381.50" font-size="7.0" text-anchor="middle" font-weight="bold" fill="#262626" font-family="Liberation Sans, sans-serif"  stroke="#262626" stroke-width="0.25">0.05</text>
<text x="383.33" y="381.50" font-size="7.0" text-anchor="middle" font-weight="bold" fill="#262626" font-family="Liberation Sans, sans-serif"  stroke="#262626" stroke-width="0.25">0.1</text>
<text x="409.14" y="381.50" font-size="7.0" text-anchor="middle" font-weight="bold" fill="#262626" font-family="Liberation Sans, sans-serif"  stroke="#262626" stroke-width="0.25">0.15</text>
<text x="434.96" y="381.50" font-size="7.0" text-anchor="middle" font-weight="bold" fill="#262626" font-family="Liberation Sans, sans-serif"  stroke="#262626" stroke-width="0.25">0.2</text>
<text x="460.77" y="381.50" font-size="7.0" text-anchor="middle" font-weight="bold" fill="#262626" font-family="Liberation Sans, sans-serif"  stroke="#262626" stroke-width="0.25">0.25</text>
<text x="486.59" y="381.50" font-size="7.0" text-anchor="middle" font-weight="bold" fill="#262626" font-family="Liberation Sans, sans-serif"  stroke="#262626" stroke-width="0.25">0.3</text>
<text x="512.40" y="381.50" font-size="7.0" text-anchor="middle" font-weight="bold" fill="#262626" font-family="Liberation Sans, sans-serif"  stroke="#262626" stroke-width="0.25">0.35</text>
<text x="538.22" y="381.50" font-size="7.0" text-anchor="middle" font-weight="bold" fill="#262626" font-family="Liberation Sans, sans-serif"  stroke="#262626" stroke-width="0.25">0.4</text>
<text x="327.30" y="372.90" font-size="7.0" text-anchor="end" font-weight="bold" fill="#262626" font-family="Liberation Sans, sans-serif"  stroke="#262626" stroke-width="0.25">-3</text>
<text x="327.30" y="347.35" font-size="7.0" text-anchor="end" font-weight="bold" fill="#262626" font-family="Liberation Sans, sans-serif"  stroke="#262626" stroke-width="0.25">-2</text>
<text x="327.30" y="321.80" font-size="7.0" text-anchor="end" font-weight="bold" fill="#262626" font-family="Liberation Sans, sans-serif"  stroke="#262626" stroke-width="0.25">-1</text>
<text x="327.30" y="296.25" font-size="7.0" text-anchor="end" font-weight="bold" fill="#262626" font-family="Liberation Sans, sans-serif"  stroke="#262626" stroke-width="0.25">0</text>
<text x="327.30" y="270.70" font-size="7.0" text-anchor="end" font-weight="bold" fill="#262626" font-family="Liberation Sans, sans-serif"  stroke="#262626" stroke-width="0.25">1</text>
<text x="327.30" y="245.15" font-size="7.0" text-anchor="end" font-weight="bold" fill="#262626" font-family="Liberation Sans, sans-serif"  stroke="#262626" stroke-width="0.25">2</text>
<text x="327.30" y="219.60" font-size="7.0" text-anchor="end" font-weight="bold" fill="#262626" font-family="Liberation Sans, sans-serif"  stroke="#262626" stroke-width="0.25">3</text>
<text x="434.95" y="390.30" font-size="7.5" text-anchor="middle" font-weight="bold" fill="#262626" font-family="Liberation Sans, sans-serif"  stroke="#262626" stroke-width="0.25">t (s)</text>
<text transform="translate(318.80 296.50) rotate(-90)" font-size="8.3" text-anchor="middle" font-weight="bold" fill="#262626" stroke="#262626" stroke-width="0.25" font-family="Liberation Sans, sans-serif">err(r/min)</text>
<rect x="381.40" y="302.80" width="156.30" height="57.70" fill="#fff" stroke="none"/>
<clipPath id="c8"><rect x="381.40" y="302.80" width="156.30" height="57.70"/></clipPath>
<g clip-path="url(#c8)">
<path d="M381.4 356.5L389.2 337.4L395.0 323.1L403.2 302.8L436.1 302.8L436.3 322.0L420.0 330.0L408.5 330.6L402.7 335.4L395.0 345.0L389.0 354.0L384.4 360.5L381.4 360.5Z" fill="#74AB2C" />
<path d="M443.3 302.8L449.3 302.8L449.0 322.0L443.1 322.0Z" fill="#74AB2C" />
<path d="M442.4 327.0L447.2 327.0L446.2 343.0L445.2 352.0L444.3 360.5L441.0 360.5Z" fill="#74AB2C" />
<path d="M458.7 302.8L485.6 302.8L487.5 308.5L491.3 314.2L498.0 319.0L507.7 323.8L517.3 326.7L527.0 329.2L538.0 331.2L538.0 335.0L523.0 332.5L513.5 327.7L503.8 324.8L494.2 321.0L484.6 316.2L478.8 313.3L475.0 314.2L469.2 318.0L465.4 316.2L461.5 308.5Z" fill="#74AB2C" />
<path d="M436.2 322.0L436.5 314.0L437.0 310.5L438.1 308.7L439.4 311.0L441.0 316.0L443.3 321.0L441.5 321.0L439.5 318.3L438.2 316.5L437.8 322.0Z" fill="#FF2A1A" />
<path d="M432.9 327.0L436.0 327.0L435.3 360.5L433.4 360.5Z" fill="#FF2A1A" />
<path d="M381.4 333.6L388.0 332.4L394.0 331.2" fill="none" stroke="#FF2A1A" stroke-width="1.4" stroke-linejoin="round" stroke-linecap="butt" />
<path d="M478.0 330.1L500.0 330.1L516.0 330.5" fill="none" stroke="#F0703A" stroke-width="0.6" stroke-linejoin="round" stroke-linecap="butt" />
<path d="M399.0 321.5L401.5 318.7L405.9 315.5L411.4 314.5L422.3 315.3L427.7 315.9L435.3 317.0L435.3 320.0L399.0 323.5Z" fill="#62DC10" />
<path d="M427.8 327.0L430.2 327.0L429.7 357.8L428.6 357.8Z" fill="#78CC22" />
<path d="M431.7 327.0L431.9 347.0" fill="none" stroke="#78CC22" stroke-width="1.0" stroke-linejoin="round" stroke-linecap="butt" />
<path d="M423.0 319.0L425.0 317.4L428.0 316.6L431.0 316.5L436.0 317.5L440.0 318.0L445.0 319.0L450.0 320.3L455.0 320.5L460.0 321.0L465.0 321.5L470.0 322.0L475.0 323.0L478.0 324.5L478.0 328.5L470.0 330.3L460.0 331.0L450.0 330.8L445.0 330.5L440.0 330.0L430.0 329.0L418.0 328.0Z" fill="#7E2F8E" />
<path d="M488.0 324.8L492.0 323.0L497.0 323.2L501.0 325.2L488.0 326.0Z" fill="#7E2F8E" />
<path d="M381.4 326.7L385.0 325.3L390.0 323.8L395.0 321.8L400.0 320.0L405.0 318.8L410.0 318.0L420.0 318.0L430.0 318.5L440.0 321.0L450.0 322.0L460.0 323.0L470.0 323.4L480.0 323.8L490.0 324.5L500.0 325.0L510.0 326.0L520.0 327.0L530.0 327.7L538.0 328.0L538.0 330.6L530.0 330.2L520.0 329.6L510.0 329.7L500.0 329.5L480.0 329.6L460.0 330.0L450.0 329.5L440.0 329.0L430.0 328.5L420.0 328.5L410.0 329.0L400.0 329.6L390.0 331.5L381.4 333.5Z" fill="#B94FFF" />
</g>
<rect x="381.40" y="302.80" width="156.30" height="57.70" fill="none" stroke="#8a8a8a" stroke-width="0.6"/>
<path d="M388.30 360.50 v-1.2M388.30 302.80 v1.2M405.93 360.50 v-1.2M405.93 302.80 v1.2M423.55 360.50 v-1.2M423.55 302.80 v1.2M441.18 360.50 v-1.2M441.18 302.80 v1.2M458.80 360.50 v-1.2M458.80 302.80 v1.2M476.43 360.50 v-1.2M476.43 302.80 v1.2M494.05 360.50 v-1.2M494.05 302.80 v1.2M511.68 360.50 v-1.2M511.68 302.80 v1.2M529.30 360.50 v-1.2M529.30 302.80 v1.2M381.40 346.35 h1.2M537.70 346.35 h-1.2M381.40 328.70 h1.2M537.70 328.70 h-1.2M381.40 311.05 h1.2M537.70 311.05 h-1.2" stroke="#8a8a8a" stroke-width="0.5" fill="none"/>
<text x="388.30" y="366.80" font-size="4.8" text-anchor="middle" font-weight="normal" fill="#4d4d4d" font-family="Liberation Sans, sans-serif" >0.01</text>
<text x="405.93" y="366.80" font-size="4.8" text-anchor="middle" font-weight="normal" fill="#4d4d4d" font-family="Liberation Sans, sans-serif" >0.015</text>
<text x="423.55" y="366.80" font-size="4.8" text-anchor="middle" font-weight="normal" fill="#4d4d4d" font-family="Liberation Sans, sans-serif" >0.02</text>
<text x="441.18" y="366.80" font-size="4.8" text-anchor="middle" font-weight="normal" fill="#4d4d4d" font-family="Liberation Sans, sans-serif" >0.025</text>
<text x="458.80" y="366.80" font-size="4.8" text-anchor="middle" font-weight="normal" fill="#4d4d4d" font-family="Liberation Sans, sans-serif" >0.03</text>
<text x="476.43" y="366.80" font-size="4.8" text-anchor="middle" font-weight="normal" fill="#4d4d4d" font-family="Liberation Sans, sans-serif" >0.035</text>
<text x="494.05" y="366.80" font-size="4.8" text-anchor="middle" font-weight="normal" fill="#4d4d4d" font-family="Liberation Sans, sans-serif" >0.04</text>
<text x="511.68" y="366.80" font-size="4.8" text-anchor="middle" font-weight="normal" fill="#4d4d4d" font-family="Liberation Sans, sans-serif" >0.045</text>
<text x="529.30" y="366.80" font-size="4.8" text-anchor="middle" font-weight="normal" fill="#4d4d4d" font-family="Liberation Sans, sans-serif" >0.05</text>
<text x="379.40" y="348.15" font-size="4.56" text-anchor="end" font-weight="normal" fill="#4d4d4d" font-family="Liberation Sans, sans-serif" >-0.5</text>
<text x="379.40" y="330.50" font-size="4.56" text-anchor="end" font-weight="normal" fill="#4d4d4d" font-family="Liberation Sans, sans-serif" >0</text>
<text x="379.40" y="312.85" font-size="4.56" text-anchor="end" font-weight="normal" fill="#4d4d4d" font-family="Liberation Sans, sans-serif" >0.5</text>
<ellipse cx="349.70" cy="292.10" rx="16.20" ry="13.60" fill="none" stroke="#111" stroke-width="1.6" stroke-dasharray="1.3 1.45"/>
<path d="M367.30 297.80 L376.73 302.48" stroke="#000" stroke-width="1.5" fill="none"/>
<path d="M380.60 304.40 L374.07 304.06 L376.73 302.48 L376.38 299.40 Z" fill="#000"/>
<rect x="490.00" y="222.25" width="42.80" height="35.50" fill="#fff" stroke="#111" stroke-width="1.3"/>
<path d="M492.50 226.60 H512.20" stroke="#FF3028" stroke-width="1.0" fill="none"/>
<text x="513.90" y="228.51" font-size="5.3" text-anchor="start" font-weight="bold" fill="#000" font-family="Liberation Sans, sans-serif"  stroke="#000" stroke-width="0.25">CVSPI</text>
<path d="M492.50 233.50 H512.20" stroke="#7DB23A" stroke-width="1.1" fill="none"/>
<text x="513.90" y="235.41" font-size="5.3" text-anchor="start" font-weight="bold" fill="#000" font-family="Liberation Sans, sans-serif"  stroke="#000" stroke-width="0.25">PI</text>
<path d="M492.50 240.00 H512.20" stroke="#9CEB5C" stroke-width="1.3" fill="none" stroke-dasharray="1.2 0.8"/>
<text x="513.90" y="241.91" font-size="5.3" text-anchor="start" font-weight="bold" fill="#000" font-family="Liberation Sans, sans-serif"  stroke="#000" stroke-width="0.25">AWPI</text>
<path d="M492.50 246.80 H512.20" stroke="#8A3FA8" stroke-width="1.0" fill="none" stroke-dasharray="4.4 3.2"/>
<text x="513.90" y="248.71" font-size="5.3" text-anchor="start" font-weight="bold" fill="#000" font-family="Liberation Sans, sans-serif"  stroke="#000" stroke-width="0.25">ADRC</text>
<path d="M492.50 253.50 H512.20" stroke="#B552FF" stroke-width="1.1" fill="none"/>
<text x="513.90" y="255.41" font-size="5.3" text-anchor="start" font-weight="bold" fill="#000" font-family="Liberation Sans, sans-serif"  stroke="#000" stroke-width="0.25">STA</text>
<text x="425.9" y="405.6" font-size="13.3" text-anchor="middle" fill="#0a0a0a" font-family="Liberation Serif, serif">(<tspan font-weight="bold">d</tspan>)</text>
</svg>
</body></html>
